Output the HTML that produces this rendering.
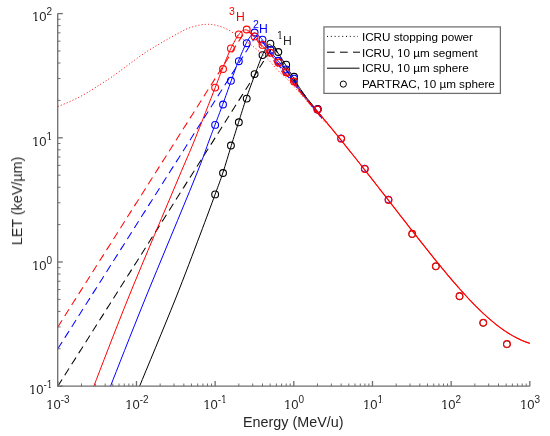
<!DOCTYPE html>
<html><head><meta charset="utf-8"><style>
html,body{margin:0;padding:0;background:#fff;width:550px;height:436px;overflow:hidden}
body{position:relative;font-family:"Liberation Sans",sans-serif;color:#262626}
.xt,.yt,.xl,.yl,.leg,.isoH,.isoS{will-change:transform}
svg{position:absolute;left:0;top:0}
.xt{position:absolute;width:60px;text-align:center;font-size:13px;line-height:15px;white-space:nowrap}
.yt{position:absolute;right:497.7px;font-size:13px;line-height:15px;white-space:nowrap}
sup{font-size:10px;vertical-align:0;position:relative;top:-6.5px}
.xl{position:absolute;left:243.2px;top:413.9px;font-size:14.35px;line-height:16px;white-space:nowrap}
.yl{position:absolute;left:23px;top:200.7px;font-size:14.35px;line-height:16px;white-space:nowrap;transform:translate(-50%,-50%) rotate(-90deg)}
.leg{position:absolute;left:324px;top:27px;width:177px;height:67px}
.lt{position:absolute;left:37.9px;font-size:11.7px;line-height:14px;white-space:nowrap;color:#000}
.isoH{position:absolute;font-size:12.2px;line-height:14px;white-space:nowrap}
.isoS{position:absolute;font-size:10.5px;line-height:12px;white-space:nowrap}
</style></head><body>
<svg width="550" height="436" viewBox="0 0 550 436"><defs><clipPath id="pc"><rect x="57.5" y="0" width="480" height="386.5"/></clipPath></defs><g clip-path="url(#pc)" fill="none" stroke-linejoin="round"><path d="M57.80,386.20 L58.11,385.70 L58.43,385.21 L58.74,384.71 L59.06,384.21 L59.37,383.71 L59.69,383.22 L60.00,382.72 L60.32,382.22 L60.63,381.73 L60.95,381.23 L61.26,380.73 L61.58,380.23 L61.89,379.74 L62.21,379.24 L62.52,378.74 L62.84,378.25 L63.15,377.75 L63.47,377.25 L63.78,376.75 L64.10,376.26 L64.41,375.76 L64.73,375.26 L65.04,374.77 L65.36,374.27 L65.67,373.77 L65.99,373.27 L66.30,372.78 L66.62,372.28 L66.93,371.78 L67.25,371.29 L67.56,370.79 L67.88,370.29 L68.19,369.79 L68.51,369.30 L68.82,368.80 L69.14,368.30 L69.45,367.81 L69.77,367.31 L70.08,366.81 L70.40,366.31 L70.71,365.82 L71.03,365.32 L71.34,364.82 L71.66,364.33 L71.97,363.83 L72.28,363.33 L72.60,362.83 L72.91,362.34 L73.23,361.84 L73.54,361.34 L73.86,360.85 L74.17,360.35 L74.49,359.85 L74.80,359.35 L75.12,358.86 L75.43,358.36 L75.75,357.86 L76.06,357.37 L76.38,356.87 L76.69,356.37 L77.01,355.87 L77.32,355.38 L77.64,354.88 L77.95,354.38 L78.27,353.89 L78.58,353.39 L78.90,352.89 L79.21,352.40 L79.53,351.90 L79.84,351.40 L80.16,350.90 L80.47,350.41 L80.79,349.91 L81.10,349.41 L81.42,348.92 L81.73,348.42 L82.05,347.92 L82.36,347.42 L82.68,346.93 L82.99,346.43 L83.31,345.93 L83.62,345.44 L83.94,344.94 L84.25,344.44 L84.57,343.94 L84.88,343.45 L85.20,342.95 L85.51,342.45 L85.83,341.96 L86.14,341.46 L86.45,340.96 L86.77,340.46 L87.08,339.97 L87.40,339.47 L87.71,338.97 L88.03,338.48 L88.34,337.98 L88.66,337.48 L88.97,336.98 L89.29,336.49 L89.60,335.99 L89.92,335.49 L90.23,335.00 L90.55,334.50 L90.86,334.00 L91.18,333.50 L91.49,333.01 L91.81,332.51 L92.12,332.01 L92.44,331.52 L92.75,331.02 L93.07,330.52 L93.38,330.02 L93.70,329.53 L94.01,329.03 L94.33,328.53 L94.64,328.04 L94.96,327.54 L95.27,327.04 L95.59,326.54 L95.90,326.05 L96.22,325.55 L96.53,325.05 L96.85,324.56 L97.16,324.06 L97.48,323.56 L97.79,323.06 L98.11,322.57 L98.42,322.07 L98.74,321.57 L99.05,321.08 L99.37,320.58 L99.68,320.08 L100.00,319.58 L100.31,319.09 L100.63,318.59 L100.94,318.09 L101.25,317.60 L101.57,317.10 L101.88,316.60 L102.20,316.10 L102.51,315.61 L102.83,315.11 L103.14,314.61 L103.46,314.12 L103.77,313.62 L104.09,313.12 L104.40,312.62 L104.72,312.13 L105.03,311.63 L105.35,311.13 L105.66,310.64 L105.98,310.14 L106.29,309.64 L106.61,309.14 L106.92,308.65 L107.24,308.15 L107.55,307.65 L107.87,307.16 L108.18,306.66 L108.50,306.16 L108.81,305.66 L109.13,305.17 L109.44,304.67 L109.76,304.17 L110.07,303.68 L110.39,303.18 L110.70,302.68 L111.02,302.18 L111.33,301.69 L111.65,301.19 L111.96,300.69 L112.28,300.20 L112.59,299.70 L112.91,299.20 L113.22,298.70 L113.54,298.21 L113.85,297.71 L114.17,297.21 L114.48,296.72 L114.80,296.22 L115.11,295.72 L115.42,295.22 L115.74,294.73 L116.05,294.23 L116.37,293.73 L116.68,293.24 L117.00,292.74 L117.31,292.24 L117.63,291.75 L117.94,291.25 L118.26,290.75 L118.57,290.25 L118.89,289.76 L119.20,289.26 L119.52,288.76 L119.83,288.27 L120.15,287.77 L120.46,287.27 L120.78,286.77 L121.09,286.28 L121.41,285.78 L121.72,285.28 L122.04,284.79 L122.35,284.29 L122.67,283.79 L122.98,283.29 L123.30,282.80 L123.61,282.30 L123.93,281.80 L124.24,281.31 L124.56,280.81 L124.87,280.31 L125.19,279.81 L125.50,279.32 L125.82,278.82 L126.13,278.32 L126.45,277.83 L126.76,277.33 L127.08,276.83 L127.39,276.33 L127.71,275.84 L128.02,275.34 L128.34,274.84 L128.65,274.35 L128.97,273.85 L129.28,273.35 L129.59,272.85 L129.91,272.36 L130.22,271.86 L130.54,271.36 L130.85,270.87 L131.17,270.37 L131.48,269.87 L131.80,269.37 L132.11,268.88 L132.43,268.38 L132.74,267.88 L133.06,267.39 L133.37,266.89 L133.69,266.39 L134.00,265.89 L134.32,265.40 L134.63,264.90 L134.95,264.40 L135.26,263.91 L135.58,263.41 L135.89,262.91 L136.21,262.41 L136.52,261.92 L136.84,261.42 L137.15,260.92 L137.47,260.43 L137.78,259.93 L138.10,259.43 L138.41,258.93 L138.73,258.44 L139.04,257.94 L139.36,257.44 L139.67,256.95 L139.99,256.45 L140.30,255.95 L140.62,255.45 L140.93,254.96 L141.25,254.46 L141.56,253.96 L141.88,253.47 L142.19,252.97 L142.51,252.47 L142.82,251.97 L143.14,251.48 L143.45,250.98 L143.76,250.48 L144.08,249.99 L144.39,249.49 L144.71,248.99 L145.02,248.49 L145.34,248.00 L145.65,247.50 L145.97,247.00 L146.28,246.51 L146.60,246.01 L146.91,245.51 L147.23,245.01 L147.54,244.52 L147.86,244.02 L148.17,243.52 L148.49,243.03 L148.80,242.53 L149.12,242.03 L149.43,241.53 L149.75,241.04 L150.06,240.54 L150.38,240.04 L150.69,239.55 L151.01,239.05 L151.32,238.55 L151.64,238.05 L151.95,237.56 L152.27,237.06 L152.58,236.56 L152.90,236.07 L153.21,235.57 L153.53,235.07 L153.84,234.57 L154.16,234.08 L154.47,233.58 L154.79,233.08 L155.10,232.59 L155.42,232.09 L155.73,231.59 L156.05,231.09 L156.36,230.60 L156.68,230.10 L156.99,229.60 L157.31,229.11 L157.62,228.61 L157.93,228.11 L158.25,227.62 L158.56,227.12 L158.88,226.62 L159.19,226.12 L159.51,225.63 L159.82,225.13 L160.14,224.63 L160.45,224.14 L160.77,223.64 L161.08,223.14 L161.40,222.64 L161.71,222.15 L162.03,221.65 L162.34,221.15 L162.66,220.66 L162.97,220.16 L163.29,219.66 L163.60,219.16 L163.92,218.67 L164.23,218.17 L164.55,217.67 L164.86,217.18 L165.18,216.68 L165.49,216.18 L165.81,215.68 L166.12,215.19 L166.44,214.69 L166.75,214.19 L167.07,213.70 L167.38,213.20 L167.70,212.70 L168.01,212.20 L168.33,211.71 L168.64,211.21 L168.96,210.71 L169.27,210.22 L169.59,209.72 L169.90,209.22 L170.22,208.72 L170.53,208.23 L170.85,207.73 L171.16,207.23 L171.48,206.74 L171.79,206.24 L172.11,205.74 L172.42,205.24 L172.73,204.75 L173.05,204.25 L173.36,203.75 L173.68,203.26 L173.99,202.76 L174.31,202.26 L174.62,201.76 L174.94,201.27 L175.25,200.77 L175.57,200.27 L175.88,199.78 L176.20,199.28 L176.51,198.78 L176.83,198.28 L177.14,197.79 L177.46,197.29 L177.77,196.79 L178.09,196.30 L178.40,195.80 L178.72,195.30 L179.03,194.80 L179.35,194.31 L179.66,193.81 L179.98,193.31 L180.29,192.82 L180.61,192.32 L180.92,191.82 L181.24,191.32 L181.55,190.83 L181.87,190.33 L182.18,189.83 L182.50,189.34 L182.81,188.84 L183.13,188.34 L183.44,187.84 L183.76,187.35 L184.07,186.85 L184.39,186.35 L184.70,185.86 L185.02,185.36 L185.33,184.86 L185.65,184.36 L185.96,183.87 L186.28,183.37 L186.59,182.87 L186.90,182.38 L187.22,181.88 L187.53,181.38 L187.85,180.88 L188.16,180.39 L188.48,179.89 L188.79,179.39 L189.11,178.90 L189.42,178.40 L189.74,177.90 L190.05,177.40 L190.37,176.91 L190.68,176.41 L191.00,175.91 L191.31,175.42 L191.63,174.92 L191.94,174.42 L192.26,173.92 L192.57,173.43 L192.89,172.93 L193.20,172.43 L193.52,171.94 L193.83,171.44 L194.15,170.94 L194.46,170.44 L194.78,169.95 L195.09,169.45 L195.41,168.95 L195.72,168.46 L196.04,167.96 L196.35,167.46 L196.67,166.97 L196.98,166.47 L197.30,165.97 L197.61,165.47 L197.93,164.98 L198.24,164.48 L198.56,163.98 L198.87,163.49 L199.19,162.99 L199.50,162.49 L199.82,161.99 L200.13,161.50 L200.45,161.00 L200.76,160.50 L201.07,160.01 L201.39,159.51 L201.70,159.01 L202.02,158.51 L202.33,158.02 L202.65,157.52 L202.96,157.02 L203.28,156.53 L203.59,156.03 L203.91,155.53 L204.22,155.03 L204.54,154.54 L204.85,154.04 L205.17,153.54 L205.48,153.05 L205.80,152.55 L206.11,152.05 L206.43,151.55 L206.74,151.06 L207.06,150.56 L207.37,150.06 L207.69,149.57 L208.00,149.07 L208.32,148.57 L208.63,148.07 L208.95,147.58 L209.26,147.08 L209.58,146.58 L209.89,146.09 L210.21,145.59 L210.52,145.09 L210.84,144.59 L211.15,144.10 L211.47,143.60 L211.78,143.10 L212.10,142.61 L212.41,142.11 L212.73,141.61 L213.04,141.11 L213.36,140.62 L213.67,140.12 L213.99,139.62 L214.30,139.13 L214.62,138.63 L214.93,138.13 L215.24,137.63 L215.56,137.14 L215.87,136.64 L216.19,136.14 L216.50,135.65 L216.82,135.15 L217.13,134.65 L217.45,134.15 L217.76,133.66 L218.08,133.16 L218.39,132.66 L218.71,132.17 L219.02,131.67 L219.34,131.17 L219.65,130.67 L219.97,130.18 L220.28,129.68 L220.60,129.18 L220.91,128.69 L221.23,128.19 L221.54,127.69 L221.86,127.19 L222.17,126.70 L222.49,126.20 L222.80,125.70 L223.12,125.21 L223.43,124.71 L223.75,124.21 L224.06,123.71 L224.38,123.22 L224.69,122.72 L225.01,122.22 L225.32,121.73 L225.64,121.23 L225.95,120.73 L226.27,120.23 L226.58,119.74 L226.90,119.24 L227.21,118.74 L227.53,118.25 L227.84,117.75 L228.16,117.25 L228.47,116.75 L228.79,116.26 L229.10,115.76 L229.42,115.26 L229.73,114.77 L230.04,114.27 L230.36,113.77 L230.67,113.27 L230.99,112.78 L231.30,112.28 L231.62,111.78 L231.93,111.29 L232.25,110.79 L232.56,110.29 L232.88,109.79 L233.19,109.30 L233.51,108.80 L233.82,108.30 L234.14,107.81 L234.45,107.31 L234.77,106.81 L235.08,106.32 L235.40,105.82 L235.71,105.32 L236.03,104.82 L236.34,104.33 L236.66,103.83 L236.97,103.33 L237.29,102.84 L237.60,102.34 L237.92,101.84 L238.23,101.34 L238.55,100.85 L238.86,100.35 L239.18,99.85 L239.49,99.36 L239.81,98.86 L240.12,98.36 L240.44,97.86 L240.75,97.37 L241.07,96.87 L241.38,96.37 L241.70,95.88 L242.01,95.38 L242.33,94.88 L242.64,94.38 L242.96,93.89 L243.27,93.39 L243.59,92.89 L243.90,92.40 L244.21,91.90 L244.53,91.40 L244.84,90.90 L245.16,90.41 L245.47,89.91 L245.79,89.41 L246.10,88.92 L246.42,88.42 L246.73,87.92 L247.05,87.42 L247.36,86.93 L247.68,86.43 L247.99,85.93 L248.31,85.44 L248.62,84.94 L248.94,84.44 L249.25,83.94 L249.57,83.45 L249.88,82.95 L250.20,82.45 L250.51,81.96 L250.83,81.46 L251.14,80.96 L251.46,80.46 L251.77,79.97 L252.09,79.47 L252.40,78.97 L252.72,78.48 L253.03,77.98 L253.35,77.48 L253.66,76.98 L253.98,76.49 L254.29,75.99 L254.61,75.49 L254.92,75.00 L255.24,74.50 L255.55,74.00 L255.87,73.50 L256.18,73.01 L256.50,72.51 L256.81,72.01 L257.13,71.52 L257.44,71.02 L257.76,70.52 L258.07,70.02 L258.38,69.53 L258.70,69.03 L259.01,68.53 L259.33,68.04 L259.64,67.54 L259.96,67.04 L260.27,66.54 L260.59,66.05 L260.90,65.55 L261.22,65.05 L261.53,64.56 L261.85,64.06 L262.16,63.56 L262.48,63.06 L262.79,62.57 L263.11,62.07 L263.42,61.57 L263.74,61.08 L264.05,60.58 L264.37,60.08 L264.68,59.58 L265.00,59.09 L265.31,58.59 L265.63,58.09 L265.94,57.60 L266.26,57.10 L266.57,56.60 L266.89,56.10 L267.20,55.61 L267.52,55.11 L267.83,54.61 L268.15,54.12 L268.46,53.62 L268.78,53.12 L269.09,52.62 L269.41,52.13 L269.72,51.63 L270.04,51.13 L270.35,50.64 L270.67,50.14 L270.98,49.64 L271.30,49.14 L271.61,48.65 L271.93,48.15 L272.24,47.65 L272.55,47.16 L272.87,46.66 L273.18,46.35 L273.50,46.21 L273.81,46.22 L274.13,46.38 L274.44,46.67 L274.76,47.08 L275.07,47.60 L275.39,48.21 L275.70,48.87 L276.02,49.58 L276.33,50.31 L276.65,51.05 L276.96,51.80 L277.28,52.54 L277.59,53.27 L277.91,53.98 L278.22,54.69 L278.54,55.37 L278.85,56.05 L279.17,56.71 L279.48,57.37 L279.80,58.01 L280.11,58.65 L280.43,59.28 L280.74,59.90 L281.06,60.50 L281.37,61.10 L281.69,61.70 L282.00,62.28 L282.32,62.86 L282.63,63.44 L282.95,64.01 L283.26,64.58 L283.58,65.13 L283.89,65.69 L284.21,66.23 L284.52,66.77 L284.84,67.30 L285.15,67.83 L285.47,68.35 L285.78,68.87 L286.10,69.38 L286.41,69.89 L286.72,70.39 L287.04,70.90 L287.35,71.39 L287.67,71.89 L287.98,72.37 L288.30,72.85 L288.61,73.33 L288.93,73.80 L289.24,74.26 L289.56,74.72 L289.87,75.17 L290.19,75.61 L290.50,76.06 L290.82,76.50 L291.13,76.93 L291.45,77.36 L291.76,77.78 L292.08,78.20 L292.39,78.62 L292.71,79.04 L293.02,79.46 L293.34,79.88 L293.65,80.30 L293.97,80.73 L294.28,81.15 L294.60,81.58 L294.91,82.01 L295.23,82.44 L295.54,82.88 L295.86,83.32 L296.17,83.76 L296.49,84.20 L296.80,84.64 L297.12,85.08 L297.43,85.51 L297.75,85.95 L298.06,86.38 L298.38,86.82 L298.69,87.25 L299.01,87.68 L299.32,88.11 L299.64,88.54 L299.95,88.97 L300.27,89.40 L300.58,89.82 L300.90,90.25 L301.21,90.67 L301.52,91.10 L301.84,91.52 L302.15,91.94 L302.47,92.36 L302.78,92.78 L303.10,93.20 L303.41,93.62 L303.73,94.04 L304.04,94.46 L304.36,94.87 L304.67,95.29 L304.99,95.71 L305.30,96.12 L305.62,96.54 L305.93,96.95 L306.25,97.36 L306.56,97.78 L306.88,98.19 L307.19,98.60 L307.51,99.01 L307.82,99.42 L308.14,99.83 L308.45,100.24 L308.77,100.65 L309.08,101.06 L309.40,101.47 L309.71,101.87 L310.03,102.28 L310.34,102.69 L310.66,103.09 L310.97,103.50 L311.29,103.91 L311.60,104.31 L311.92,104.72 L312.23,105.12 L312.55,105.53 L312.86,105.93 L313.18,106.34 L313.49,106.74 L313.81,107.14 L314.12,107.55 L314.44,107.95 L314.75,108.35 L315.07,108.75 L315.38,109.16 L315.69,109.56 L316.01,109.96 L316.32,110.36 L316.64,110.76 L316.95,111.16 L317.27,111.56 L317.58,111.97 L317.90,112.37 L318.21,112.77 L318.53,113.17 L318.84,113.57 L319.16,113.97 L319.47,114.36 L319.79,114.76 L320.10,115.16 L320.42,115.56 L320.73,115.96 L321.05,116.36 L321.36,116.76 L321.68,117.16 L321.99,117.56" stroke="#000" stroke-width="1.05" stroke-dasharray="8 5"/><path d="M139.60,386.20 L142.40,379.40 L146.20,370.21 L150.74,359.26 L155.74,347.16 L160.93,334.56 L166.05,322.08 L170.83,310.35 L175.00,300.00 L178.69,290.69 L182.21,281.69 L185.57,273.00 L188.77,264.65 L191.81,256.66 L194.69,249.04 L197.42,241.81 L200.00,235.00 L202.41,228.63 L204.64,222.68 L206.71,217.14 L208.63,211.98 L210.41,207.15 L212.08,202.63 L213.63,198.39 L215.10,194.40 L216.41,190.85 L217.53,187.84 L218.49,185.24 L219.36,182.88 L220.18,180.63 L220.99,178.33 L221.85,175.84 L222.80,173.00 L223.83,169.82 L224.90,166.45 L225.98,162.95 L227.08,159.36 L228.17,155.77 L229.24,152.22 L230.29,148.77 L231.30,145.50 L232.27,142.40 L233.20,139.41 L234.11,136.51 L235.01,133.66 L235.89,130.85 L236.78,128.03 L237.68,125.19 L238.60,122.30 L239.53,119.37 L240.45,116.43 L241.37,113.48 L242.30,110.53 L243.24,107.57 L244.20,104.59 L245.19,101.60 L246.20,98.60 L247.26,95.54 L248.37,92.40 L249.51,89.23 L250.67,86.06 L251.82,82.92 L252.96,79.86 L254.06,76.90 L255.10,74.10 L256.10,71.39 L257.09,68.73 L258.05,66.14 L258.99,63.64 L259.89,61.26 L260.77,59.02 L261.60,56.96 L262.40,55.10 L263.16,53.43 L263.88,51.94 L264.57,50.61 L265.22,49.43 L265.84,48.38 L266.42,47.47 L266.98,46.68 L267.50,46.00 L267.94,45.42 L268.28,44.96 L268.56,44.61 L268.82,44.40 L269.11,44.32 L269.45,44.39 L269.90,44.62 L270.50,45.00 L271.26,45.58 L272.14,46.37 L273.12,47.33 L274.16,48.43 L275.24,49.62 L276.33,50.89 L277.39,52.20 L278.40,53.50 L279.36,54.85 L280.32,56.29 L281.27,57.80 L282.22,59.36 L283.16,60.96 L284.11,62.56 L285.05,64.14 L286.00,65.70 L286.93,67.21 L287.85,68.69 L288.75,70.16 L289.66,71.64 L290.59,73.15 L291.55,74.70 L292.54,76.31 L293.60,78.00 L294.69,79.77 L295.79,81.59 L296.93,83.47 L298.09,85.39 L299.31,87.36 L300.60,89.37 L301.95,91.42 L303.40,93.50 L305.04,95.74 L306.91,98.20 L308.91,100.77 L310.95,103.34 L312.92,105.81 L314.73,108.07 L316.29,110.01 L317.49,111.52 L318.30,112.54 L318.80,113.16 L319.06,113.48 L319.15,113.57 L319.15,113.54 L319.12,113.48 L319.14,113.48 L319.28,113.64 L319.50,113.90 L319.72,114.17 L319.95,114.43 L320.17,114.70 L320.39,114.97 L320.61,115.23 L320.84,115.50 L321.06,115.77 L321.28,116.03 L321.51,116.30 L321.73,116.57 L321.95,116.83" stroke="#000" stroke-width="1"/><circle cx="215.14" cy="194.40" r="3.4" stroke="#000" stroke-width="1.1"/><circle cx="223.03" cy="173.00" r="3.4" stroke="#000" stroke-width="1.1"/><circle cx="230.93" cy="145.50" r="3.4" stroke="#000" stroke-width="1.1"/><circle cx="238.82" cy="122.30" r="3.4" stroke="#000" stroke-width="1.1"/><circle cx="246.72" cy="98.60" r="3.4" stroke="#000" stroke-width="1.1"/><circle cx="254.61" cy="74.10" r="3.4" stroke="#000" stroke-width="1.1"/><circle cx="262.50" cy="55.10" r="3.4" stroke="#000" stroke-width="1.1"/><circle cx="270.40" cy="43.70" r="3.4" stroke="#000" stroke-width="1.1"/><circle cx="278.29" cy="52.00" r="3.4" stroke="#000" stroke-width="1.1"/><circle cx="286.19" cy="64.70" r="3.4" stroke="#000" stroke-width="1.1"/><circle cx="294.08" cy="76.80" r="3.4" stroke="#000" stroke-width="1.1"/><circle cx="317.79" cy="108.90" r="3.4" stroke="#000" stroke-width="1.1"/><path d="M57.80,348.81 L58.11,348.31 L58.43,347.82 L58.74,347.32 L59.06,346.82 L59.37,346.33 L59.69,345.83 L60.00,345.33 L60.32,344.84 L60.63,344.34 L60.95,343.84 L61.26,343.34 L61.58,342.85 L61.89,342.35 L62.21,341.85 L62.52,341.36 L62.84,340.86 L63.15,340.36 L63.47,339.86 L63.78,339.37 L64.10,338.87 L64.41,338.37 L64.73,337.88 L65.04,337.38 L65.36,336.88 L65.67,336.38 L65.99,335.89 L66.30,335.39 L66.62,334.89 L66.93,334.40 L67.25,333.90 L67.56,333.40 L67.88,332.90 L68.19,332.41 L68.51,331.91 L68.82,331.41 L69.14,330.92 L69.45,330.42 L69.77,329.92 L70.08,329.42 L70.40,328.93 L70.71,328.43 L71.03,327.93 L71.34,327.44 L71.66,326.94 L71.97,326.44 L72.28,325.94 L72.60,325.45 L72.91,324.95 L73.23,324.45 L73.54,323.96 L73.86,323.46 L74.17,322.96 L74.49,322.46 L74.80,321.97 L75.12,321.47 L75.43,320.97 L75.75,320.48 L76.06,319.98 L76.38,319.48 L76.69,318.98 L77.01,318.49 L77.32,317.99 L77.64,317.49 L77.95,317.00 L78.27,316.50 L78.58,316.00 L78.90,315.50 L79.21,315.01 L79.53,314.51 L79.84,314.01 L80.16,313.52 L80.47,313.02 L80.79,312.52 L81.10,312.02 L81.42,311.53 L81.73,311.03 L82.05,310.53 L82.36,310.04 L82.68,309.54 L82.99,309.04 L83.31,308.54 L83.62,308.05 L83.94,307.55 L84.25,307.05 L84.57,306.56 L84.88,306.06 L85.20,305.56 L85.51,305.06 L85.83,304.57 L86.14,304.07 L86.45,303.57 L86.77,303.08 L87.08,302.58 L87.40,302.08 L87.71,301.58 L88.03,301.09 L88.34,300.59 L88.66,300.09 L88.97,299.60 L89.29,299.10 L89.60,298.60 L89.92,298.10 L90.23,297.61 L90.55,297.11 L90.86,296.61 L91.18,296.12 L91.49,295.62 L91.81,295.12 L92.12,294.62 L92.44,294.13 L92.75,293.63 L93.07,293.13 L93.38,292.64 L93.70,292.14 L94.01,291.64 L94.33,291.14 L94.64,290.65 L94.96,290.15 L95.27,289.65 L95.59,289.16 L95.90,288.66 L96.22,288.16 L96.53,287.66 L96.85,287.17 L97.16,286.67 L97.48,286.17 L97.79,285.68 L98.11,285.18 L98.42,284.68 L98.74,284.18 L99.05,283.69 L99.37,283.19 L99.68,282.69 L100.00,282.20 L100.31,281.70 L100.63,281.20 L100.94,280.71 L101.25,280.21 L101.57,279.71 L101.88,279.21 L102.20,278.72 L102.51,278.22 L102.83,277.72 L103.14,277.23 L103.46,276.73 L103.77,276.23 L104.09,275.73 L104.40,275.24 L104.72,274.74 L105.03,274.24 L105.35,273.75 L105.66,273.25 L105.98,272.75 L106.29,272.25 L106.61,271.76 L106.92,271.26 L107.24,270.76 L107.55,270.27 L107.87,269.77 L108.18,269.27 L108.50,268.77 L108.81,268.28 L109.13,267.78 L109.44,267.28 L109.76,266.79 L110.07,266.29 L110.39,265.79 L110.70,265.29 L111.02,264.80 L111.33,264.30 L111.65,263.80 L111.96,263.31 L112.28,262.81 L112.59,262.31 L112.91,261.81 L113.22,261.32 L113.54,260.82 L113.85,260.32 L114.17,259.83 L114.48,259.33 L114.80,258.83 L115.11,258.33 L115.42,257.84 L115.74,257.34 L116.05,256.84 L116.37,256.35 L116.68,255.85 L117.00,255.35 L117.31,254.85 L117.63,254.36 L117.94,253.86 L118.26,253.36 L118.57,252.87 L118.89,252.37 L119.20,251.87 L119.52,251.37 L119.83,250.88 L120.15,250.38 L120.46,249.88 L120.78,249.39 L121.09,248.89 L121.41,248.39 L121.72,247.89 L122.04,247.40 L122.35,246.90 L122.67,246.40 L122.98,245.91 L123.30,245.41 L123.61,244.91 L123.93,244.41 L124.24,243.92 L124.56,243.42 L124.87,242.92 L125.19,242.43 L125.50,241.93 L125.82,241.43 L126.13,240.93 L126.45,240.44 L126.76,239.94 L127.08,239.44 L127.39,238.95 L127.71,238.45 L128.02,237.95 L128.34,237.45 L128.65,236.96 L128.97,236.46 L129.28,235.96 L129.59,235.47 L129.91,234.97 L130.22,234.47 L130.54,233.97 L130.85,233.48 L131.17,232.98 L131.48,232.48 L131.80,231.99 L132.11,231.49 L132.43,230.99 L132.74,230.49 L133.06,230.00 L133.37,229.50 L133.69,229.00 L134.00,228.51 L134.32,228.01 L134.63,227.51 L134.95,227.01 L135.26,226.52 L135.58,226.02 L135.89,225.52 L136.21,225.03 L136.52,224.53 L136.84,224.03 L137.15,223.53 L137.47,223.04 L137.78,222.54 L138.10,222.04 L138.41,221.55 L138.73,221.05 L139.04,220.55 L139.36,220.06 L139.67,219.56 L139.99,219.06 L140.30,218.56 L140.62,218.07 L140.93,217.57 L141.25,217.07 L141.56,216.58 L141.88,216.08 L142.19,215.58 L142.51,215.08 L142.82,214.59 L143.14,214.09 L143.45,213.59 L143.76,213.10 L144.08,212.60 L144.39,212.10 L144.71,211.60 L145.02,211.11 L145.34,210.61 L145.65,210.11 L145.97,209.62 L146.28,209.12 L146.60,208.62 L146.91,208.12 L147.23,207.63 L147.54,207.13 L147.86,206.63 L148.17,206.14 L148.49,205.64 L148.80,205.14 L149.12,204.64 L149.43,204.15 L149.75,203.65 L150.06,203.15 L150.38,202.66 L150.69,202.16 L151.01,201.66 L151.32,201.16 L151.64,200.67 L151.95,200.17 L152.27,199.67 L152.58,199.18 L152.90,198.68 L153.21,198.18 L153.53,197.68 L153.84,197.19 L154.16,196.69 L154.47,196.19 L154.79,195.70 L155.10,195.20 L155.42,194.70 L155.73,194.20 L156.05,193.71 L156.36,193.21 L156.68,192.71 L156.99,192.22 L157.31,191.72 L157.62,191.22 L157.93,190.72 L158.25,190.23 L158.56,189.73 L158.88,189.23 L159.19,188.74 L159.51,188.24 L159.82,187.74 L160.14,187.24 L160.45,186.75 L160.77,186.25 L161.08,185.75 L161.40,185.26 L161.71,184.76 L162.03,184.26 L162.34,183.76 L162.66,183.27 L162.97,182.77 L163.29,182.27 L163.60,181.78 L163.92,181.28 L164.23,180.78 L164.55,180.28 L164.86,179.79 L165.18,179.29 L165.49,178.79 L165.81,178.30 L166.12,177.80 L166.44,177.30 L166.75,176.80 L167.07,176.31 L167.38,175.81 L167.70,175.31 L168.01,174.82 L168.33,174.32 L168.64,173.82 L168.96,173.32 L169.27,172.83 L169.59,172.33 L169.90,171.83 L170.22,171.34 L170.53,170.84 L170.85,170.34 L171.16,169.84 L171.48,169.35 L171.79,168.85 L172.11,168.35 L172.42,167.86 L172.73,167.36 L173.05,166.86 L173.36,166.36 L173.68,165.87 L173.99,165.37 L174.31,164.87 L174.62,164.38 L174.94,163.88 L175.25,163.38 L175.57,162.88 L175.88,162.39 L176.20,161.89 L176.51,161.39 L176.83,160.90 L177.14,160.40 L177.46,159.90 L177.77,159.41 L178.09,158.91 L178.40,158.41 L178.72,157.91 L179.03,157.42 L179.35,156.92 L179.66,156.42 L179.98,155.93 L180.29,155.43 L180.61,154.93 L180.92,154.43 L181.24,153.94 L181.55,153.44 L181.87,152.94 L182.18,152.45 L182.50,151.95 L182.81,151.45 L183.13,150.95 L183.44,150.46 L183.76,149.96 L184.07,149.46 L184.39,148.97 L184.70,148.47 L185.02,147.97 L185.33,147.47 L185.65,146.98 L185.96,146.48 L186.28,145.98 L186.59,145.49 L186.90,144.99 L187.22,144.49 L187.53,143.99 L187.85,143.50 L188.16,143.00 L188.48,142.50 L188.79,142.01 L189.11,141.51 L189.42,141.01 L189.74,140.51 L190.05,140.02 L190.37,139.52 L190.68,139.02 L191.00,138.53 L191.31,138.03 L191.63,137.53 L191.94,137.03 L192.26,136.54 L192.57,136.04 L192.89,135.54 L193.20,135.05 L193.52,134.55 L193.83,134.05 L194.15,133.55 L194.46,133.06 L194.78,132.56 L195.09,132.06 L195.41,131.57 L195.72,131.07 L196.04,130.57 L196.35,130.07 L196.67,129.58 L196.98,129.08 L197.30,128.58 L197.61,128.09 L197.93,127.59 L198.24,127.09 L198.56,126.59 L198.87,126.10 L199.19,125.60 L199.50,125.10 L199.82,124.61 L200.13,124.11 L200.45,123.61 L200.76,123.11 L201.07,122.62 L201.39,122.12 L201.70,121.62 L202.02,121.13 L202.33,120.63 L202.65,120.13 L202.96,119.63 L203.28,119.14 L203.59,118.64 L203.91,118.14 L204.22,117.65 L204.54,117.15 L204.85,116.65 L205.17,116.15 L205.48,115.66 L205.80,115.16 L206.11,114.66 L206.43,114.17 L206.74,113.67 L207.06,113.17 L207.37,112.67 L207.69,112.18 L208.00,111.68 L208.32,111.18 L208.63,110.69 L208.95,110.19 L209.26,109.69 L209.58,109.19 L209.89,108.70 L210.21,108.20 L210.52,107.70 L210.84,107.21 L211.15,106.71 L211.47,106.21 L211.78,105.71 L212.10,105.22 L212.41,104.72 L212.73,104.22 L213.04,103.73 L213.36,103.23 L213.67,102.73 L213.99,102.23 L214.30,101.74 L214.62,101.24 L214.93,100.74 L215.24,100.25 L215.56,99.75 L215.87,99.25 L216.19,98.75 L216.50,98.26 L216.82,97.76 L217.13,97.26 L217.45,96.77 L217.76,96.27 L218.08,95.77 L218.39,95.28 L218.71,94.78 L219.02,94.28 L219.34,93.78 L219.65,93.29 L219.97,92.79 L220.28,92.29 L220.60,91.80 L220.91,91.30 L221.23,90.80 L221.54,90.30 L221.86,89.81 L222.17,89.31 L222.49,88.81 L222.80,88.32 L223.12,87.82 L223.43,87.32 L223.75,86.82 L224.06,86.33 L224.38,85.83 L224.69,85.33 L225.01,84.84 L225.32,84.34 L225.64,83.84 L225.95,83.34 L226.27,82.85 L226.58,82.35 L226.90,81.85 L227.21,81.36 L227.53,80.86 L227.84,80.36 L228.16,79.86 L228.47,79.37 L228.79,78.87 L229.10,78.37 L229.42,77.88 L229.73,77.38 L230.04,76.88 L230.36,76.38 L230.67,75.89 L230.99,75.39 L231.30,74.89 L231.62,74.40 L231.93,73.90 L232.25,73.40 L232.56,72.90 L232.88,72.41 L233.19,71.91 L233.51,71.41 L233.82,70.92 L234.14,70.42 L234.45,69.92 L234.77,69.42 L235.08,68.93 L235.40,68.43 L235.71,67.93 L236.03,67.44 L236.34,66.94 L236.66,66.44 L236.97,65.94 L237.29,65.45 L237.60,64.95 L237.92,64.45 L238.23,63.96 L238.55,63.46 L238.86,62.96 L239.18,62.46 L239.49,61.97 L239.81,61.47 L240.12,60.97 L240.44,60.48 L240.75,59.98 L241.07,59.48 L241.38,58.98 L241.70,58.49 L242.01,57.99 L242.33,57.49 L242.64,57.00 L242.96,56.50 L243.27,56.00 L243.59,55.50 L243.90,55.01 L244.21,54.51 L244.53,54.01 L244.84,53.52 L245.16,53.02 L245.47,52.52 L245.79,52.02 L246.10,51.53 L246.42,51.03 L246.73,50.53 L247.05,50.04 L247.36,49.54 L247.68,49.04 L247.99,48.54 L248.31,48.05 L248.62,47.55 L248.94,47.05 L249.25,46.56 L249.57,46.06 L249.88,45.56 L250.20,45.06 L250.51,44.57 L250.83,44.07 L251.14,43.57 L251.46,43.08 L251.77,42.58 L252.09,42.08 L252.40,41.58 L252.72,41.09 L253.03,40.59 L253.35,40.09 L253.66,39.60 L253.98,39.10 L254.29,38.60 L254.61,38.12 L254.92,37.73 L255.24,37.40 L255.55,37.12 L255.87,36.89 L256.18,36.71 L256.50,36.57 L256.81,36.49 L257.13,36.47 L257.44,36.48 L257.76,36.55 L258.07,36.65 L258.38,36.80 L258.70,37.00 L259.01,37.23 L259.33,37.51 L259.64,37.82 L259.96,38.16 L260.27,38.53 L260.59,38.93 L260.90,39.34 L261.22,39.78 L261.53,40.23 L261.85,40.69 L262.16,41.16 L262.48,41.63 L262.79,42.12 L263.11,42.60 L263.42,43.09 L263.74,43.57 L264.05,44.06 L264.37,44.55 L264.68,45.03 L265.00,45.51 L265.31,45.98 L265.63,46.45 L265.94,46.92 L266.26,47.38 L266.57,47.84 L266.89,48.30 L267.20,48.75 L267.52,49.20 L267.83,49.65 L268.15,50.09 L268.46,50.54 L268.78,50.98 L269.09,51.43 L269.41,51.87 L269.72,52.31 L270.04,52.75 L270.35,53.19 L270.67,53.63 L270.98,54.07 L271.30,54.51 L271.61,54.95 L271.93,55.39 L272.24,55.83 L272.55,56.27 L272.87,56.72 L273.18,57.16 L273.50,57.61 L273.81,58.06 L274.13,58.51 L274.44,58.96 L274.76,59.41 L275.07,59.85 L275.39,60.30 L275.70,60.75 L276.02,61.20 L276.33,61.65 L276.65,62.10 L276.96,62.55 L277.28,63.00 L277.59,63.45 L277.91,63.90 L278.22,64.36 L278.54,64.81 L278.85,65.27 L279.17,65.73 L279.48,66.19 L279.80,66.65 L280.11,67.10 L280.43,67.55 L280.74,67.99 L281.06,68.43 L281.37,68.86 L281.69,69.29 L282.00,69.71 L282.32,70.12 L282.63,70.53 L282.95,70.93 L283.26,71.33 L283.58,71.72 L283.89,72.10 L284.21,72.48 L284.52,72.86 L284.84,73.23 L285.15,73.59 L285.47,73.94 L285.78,74.29 L286.10,74.64 L286.41,74.98 L286.72,75.31 L287.04,75.65 L287.35,75.99 L287.67,76.33 L287.98,76.67 L288.30,77.02 L288.61,77.37 L288.93,77.72 L289.24,78.08 L289.56,78.44 L289.87,78.80 L290.19,79.17 L290.50,79.54 L290.82,79.92 L291.13,80.30 L291.45,80.69 L291.76,81.08 L292.08,81.47 L292.39,81.86 L292.71,82.26 L293.02,82.65 L293.34,83.04 L293.65,83.43 L293.97,83.82 L294.28,84.21 L294.60,84.60 L294.91,84.99 L295.23,85.38 L295.54,85.77 L295.86,86.16 L296.17,86.55 L296.49,86.94 L296.80,87.33 L297.12,87.72 L297.43,88.11 L297.75,88.50 L298.06,88.89 L298.38,89.27 L298.69,89.66 L299.01,90.05 L299.32,90.44 L299.64,90.82 L299.95,91.21 L300.27,91.60 L300.58,91.99 L300.90,92.37 L301.21,92.76 L301.52,93.15 L301.84,93.53 L302.15,93.92 L302.47,94.30 L302.78,94.69 L303.10,95.08 L303.41,95.46 L303.73,95.85 L304.04,96.24 L304.36,96.62 L304.67,97.01 L304.99,97.39 L305.30,97.78 L305.62,98.16 L305.93,98.55 L306.25,98.94 L306.56,99.32 L306.88,99.71 L307.19,100.09 L307.51,100.48 L307.82,100.86 L308.14,101.25 L308.45,101.63 L308.77,102.02 L309.08,102.40 L309.40,102.79 L309.71,103.18 L310.03,103.56 L310.34,103.95 L310.66,104.33 L310.97,104.72 L311.29,105.10 L311.60,105.49 L311.92,105.87 L312.23,106.26 L312.55,106.64 L312.86,107.03 L313.18,107.42 L313.49,107.80 L313.81,108.19 L314.12,108.57 L314.44,108.96 L314.75,109.34 L315.07,109.73 L315.38,110.11 L315.69,110.50 L316.01,110.89 L316.32,111.27 L316.64,111.66 L316.95,112.05 L317.27,112.43 L317.58,112.82 L317.90,113.21 L318.21,113.59 L318.53,113.98 L318.84,114.36 L319.16,114.75 L319.47,115.14 L319.79,115.53 L320.10,115.91 L320.42,116.30 L320.73,116.69 L321.05,117.07 L321.36,117.46 L321.68,117.85 L321.99,118.23" stroke="#0000ff" stroke-width="1.05" stroke-dasharray="8 5"/><path d="M110.50,386.20 L113.03,379.78 L116.29,371.50 L120.15,361.67 L124.51,350.60 L129.25,338.59 L134.27,325.95 L139.46,312.98 L144.70,300.00 L150.39,286.07 L156.81,270.50 L163.65,253.96 L170.64,237.11 L177.48,220.63 L183.89,205.17 L189.55,191.40 L194.20,180.00 L197.80,171.00 L200.61,163.79 L202.80,158.05 L204.49,153.44 L205.84,149.66 L206.99,146.37 L208.10,143.26 L209.30,140.00 L210.45,136.96 L211.34,134.60 L212.04,132.75 L212.61,131.23 L213.13,129.86 L213.65,128.46 L214.26,126.87 L215.00,124.90 L215.86,122.63 L216.77,120.25 L217.71,117.78 L218.68,115.24 L219.67,112.62 L220.67,109.96 L221.69,107.24 L222.70,104.50 L223.73,101.67 L224.80,98.71 L225.89,95.67 L226.98,92.60 L228.07,89.53 L229.15,86.51 L230.19,83.59 L231.20,80.80 L232.16,78.14 L233.07,75.57 L233.96,73.08 L234.84,70.64 L235.71,68.25 L236.58,65.89 L237.48,63.55 L238.40,61.20 L239.37,58.81 L240.38,56.37 L241.41,53.92 L242.44,51.52 L243.47,49.20 L244.46,47.01 L245.41,44.99 L246.30,43.20 L247.13,41.61 L247.92,40.19 L248.67,38.92 L249.39,37.79 L250.08,36.79 L250.75,35.92 L251.38,35.16 L252.00,34.50 L252.57,33.96 L253.07,33.54 L253.53,33.25 L253.97,33.08 L254.41,33.02 L254.89,33.08 L255.41,33.24 L256.00,33.50 L256.66,33.88 L257.37,34.40 L258.12,35.04 L258.91,35.79 L259.71,36.62 L260.54,37.53 L261.37,38.49 L262.20,39.50 L263.03,40.58 L263.86,41.77 L264.70,43.03 L265.56,44.36 L266.44,45.73 L267.36,47.13 L268.31,48.52 L269.30,49.90 L270.36,51.29 L271.49,52.73 L272.68,54.20 L273.88,55.68 L275.09,57.15 L276.28,58.59 L277.42,59.98 L278.50,61.30 L279.51,62.55 L280.49,63.73 L281.43,64.88 L282.34,65.99 L283.24,67.08 L284.13,68.17 L285.01,69.27 L285.90,70.40 L286.76,71.50 L287.57,72.55 L288.36,73.57 L289.15,74.61 L289.96,75.69 L290.83,76.86 L291.76,78.15 L292.80,79.60 L293.92,81.22 L295.11,82.99 L296.35,84.87 L297.65,86.84 L299.01,88.87 L300.42,90.93 L301.88,92.98 L303.40,95.00 L305.08,97.11 L306.97,99.39 L308.97,101.74 L311.00,104.09 L312.96,106.33 L314.75,108.37 L316.30,110.13 L317.49,111.52 L318.30,112.47 L318.80,113.06 L319.06,113.37 L319.15,113.48 L319.15,113.47 L319.12,113.44 L319.14,113.47 L319.28,113.64 L319.50,113.90 L319.72,114.17 L319.95,114.43 L320.17,114.70 L320.39,114.97 L320.61,115.23 L320.84,115.50 L321.06,115.77 L321.28,116.03 L321.51,116.30 L321.73,116.57 L321.95,116.83" stroke="#0000ff" stroke-width="1"/><circle cx="215.14" cy="124.90" r="3.4" stroke="#0000ff" stroke-width="1.1"/><circle cx="223.03" cy="104.50" r="3.4" stroke="#0000ff" stroke-width="1.1"/><circle cx="230.93" cy="80.80" r="3.4" stroke="#0000ff" stroke-width="1.1"/><circle cx="238.82" cy="61.20" r="3.4" stroke="#0000ff" stroke-width="1.1"/><circle cx="246.72" cy="43.20" r="3.4" stroke="#0000ff" stroke-width="1.1"/><circle cx="254.61" cy="32.50" r="3.4" stroke="#0000ff" stroke-width="1.1"/><circle cx="262.50" cy="39.60" r="3.4" stroke="#0000ff" stroke-width="1.1"/><circle cx="270.40" cy="49.90" r="3.4" stroke="#0000ff" stroke-width="1.1"/><circle cx="278.29" cy="60.80" r="3.4" stroke="#0000ff" stroke-width="1.1"/><circle cx="286.19" cy="69.40" r="3.4" stroke="#0000ff" stroke-width="1.1"/><circle cx="294.08" cy="78.60" r="3.4" stroke="#0000ff" stroke-width="1.1"/><circle cx="317.49" cy="109.50" r="3.4" stroke="#0000ff" stroke-width="1.1"/><path d="M57.80,106.60 L59.83,105.77 L62.74,104.60 L66.10,103.20 L69.50,101.70 L72.95,100.10 L76.62,98.36 L80.39,96.48 L84.10,94.50 L87.73,92.39 L91.35,90.14 L94.97,87.83 L98.60,85.50 L102.17,83.25 L105.69,81.01 L109.32,78.65 L113.20,76.00 L117.53,72.88 L122.17,69.41 L126.78,65.94 L131.00,62.80 L134.65,60.11 L137.95,57.69 L141.15,55.39 L144.50,53.10 L148.07,50.78 L151.74,48.51 L155.43,46.28 L159.10,44.10 L162.78,41.94 L166.49,39.80 L170.12,37.74 L173.60,35.80 L176.99,33.93 L180.30,32.12 L183.36,30.51 L186.00,29.20 L188.05,28.31 L189.64,27.74 L191.04,27.32 L192.50,26.90 L194.04,26.43 L195.54,26.01 L197.05,25.63 L198.60,25.30 L200.22,25.00 L201.87,24.74 L203.55,24.54 L205.20,24.40 L206.83,24.33 L208.46,24.31 L210.08,24.37 L211.70,24.50 L213.30,24.72 L214.89,25.01 L216.49,25.38 L218.10,25.80 L219.76,26.29 L221.46,26.85 L223.12,27.46 L224.70,28.10 L225.96,28.65 L227.02,29.16 L228.29,29.86 L230.20,31.00 L233.02,32.72 L236.46,34.86 L240.15,37.22 L243.70,39.60 L247.09,42.00 L250.49,44.51 L253.82,47.06 L257.00,49.60 L259.97,52.07 L262.80,54.52 L265.55,57.03 L268.30,59.70 L271.14,62.72 L274.02,66.00 L276.76,69.15 L279.20,71.80 L281.30,73.81 L283.15,75.40 L284.77,76.73 L286.19,77.97 L287.31,79.09 L288.17,80.03 L288.92,80.89 L289.73,81.80 L290.61,82.77 L291.49,83.74 L292.38,84.71 L293.26,85.69 L294.15,86.67 L295.03,87.65 L295.92,88.64 L296.80,89.63 L297.69,90.62 L298.57,91.61 L299.46,92.61 L300.34,93.61 L301.23,94.62 L302.11,95.62 L303.00,96.63 L303.88,97.64 L304.77,98.66 L305.65,99.68 L306.54,100.69 L307.42,101.72 L308.31,102.74 L309.19,103.77 L310.07,104.80 L310.96,105.83 L311.84,106.86 L312.73,107.90 L313.61,108.94 L314.50,109.98 L315.38,111.02 L316.27,112.07 L317.15,113.12 L318.04,114.16 L318.92,115.22 L319.81,116.27 L320.69,117.33 L321.58,118.38 L322.51,119.55 L323.49,120.80 L324.39,121.90 L325.12,122.63 L325.59,122.79 L325.87,122.55 L326.11,122.23 L326.41,122.20 L326.83,122.56 L327.28,123.12 L327.74,123.76 L328.20,124.36 L328.64,124.90 L329.09,125.44 L329.54,125.98 L329.98,126.52" stroke="#ff0000" stroke-width="1" stroke-dasharray="1 2.2"/><path d="M57.80,326.94 L58.11,326.44 L58.43,325.95 L58.74,325.45 L59.06,324.95 L59.37,324.46 L59.69,323.96 L60.00,323.46 L60.32,322.96 L60.63,322.47 L60.95,321.97 L61.26,321.47 L61.58,320.98 L61.89,320.48 L62.21,319.98 L62.52,319.48 L62.84,318.99 L63.15,318.49 L63.47,317.99 L63.78,317.50 L64.10,317.00 L64.41,316.50 L64.73,316.00 L65.04,315.51 L65.36,315.01 L65.67,314.51 L65.99,314.02 L66.30,313.52 L66.62,313.02 L66.93,312.52 L67.25,312.03 L67.56,311.53 L67.88,311.03 L68.19,310.54 L68.51,310.04 L68.82,309.54 L69.14,309.04 L69.45,308.55 L69.77,308.05 L70.08,307.55 L70.40,307.06 L70.71,306.56 L71.03,306.06 L71.34,305.56 L71.66,305.07 L71.97,304.57 L72.28,304.07 L72.60,303.58 L72.91,303.08 L73.23,302.58 L73.54,302.08 L73.86,301.59 L74.17,301.09 L74.49,300.59 L74.80,300.10 L75.12,299.60 L75.43,299.10 L75.75,298.61 L76.06,298.11 L76.38,297.61 L76.69,297.11 L77.01,296.62 L77.32,296.12 L77.64,295.62 L77.95,295.13 L78.27,294.63 L78.58,294.13 L78.90,293.63 L79.21,293.14 L79.53,292.64 L79.84,292.14 L80.16,291.65 L80.47,291.15 L80.79,290.65 L81.10,290.15 L81.42,289.66 L81.73,289.16 L82.05,288.66 L82.36,288.17 L82.68,287.67 L82.99,287.17 L83.31,286.67 L83.62,286.18 L83.94,285.68 L84.25,285.18 L84.57,284.69 L84.88,284.19 L85.20,283.69 L85.51,283.19 L85.83,282.70 L86.14,282.20 L86.45,281.70 L86.77,281.21 L87.08,280.71 L87.40,280.21 L87.71,279.71 L88.03,279.22 L88.34,278.72 L88.66,278.22 L88.97,277.73 L89.29,277.23 L89.60,276.73 L89.92,276.23 L90.23,275.74 L90.55,275.24 L90.86,274.74 L91.18,274.25 L91.49,273.75 L91.81,273.25 L92.12,272.75 L92.44,272.26 L92.75,271.76 L93.07,271.26 L93.38,270.77 L93.70,270.27 L94.01,269.77 L94.33,269.27 L94.64,268.78 L94.96,268.28 L95.27,267.78 L95.59,267.29 L95.90,266.79 L96.22,266.29 L96.53,265.79 L96.85,265.30 L97.16,264.80 L97.48,264.30 L97.79,263.81 L98.11,263.31 L98.42,262.81 L98.74,262.31 L99.05,261.82 L99.37,261.32 L99.68,260.82 L100.00,260.33 L100.31,259.83 L100.63,259.33 L100.94,258.83 L101.25,258.34 L101.57,257.84 L101.88,257.34 L102.20,256.85 L102.51,256.35 L102.83,255.85 L103.14,255.35 L103.46,254.86 L103.77,254.36 L104.09,253.86 L104.40,253.37 L104.72,252.87 L105.03,252.37 L105.35,251.87 L105.66,251.38 L105.98,250.88 L106.29,250.38 L106.61,249.89 L106.92,249.39 L107.24,248.89 L107.55,248.39 L107.87,247.90 L108.18,247.40 L108.50,246.90 L108.81,246.41 L109.13,245.91 L109.44,245.41 L109.76,244.91 L110.07,244.42 L110.39,243.92 L110.70,243.42 L111.02,242.93 L111.33,242.43 L111.65,241.93 L111.96,241.43 L112.28,240.94 L112.59,240.44 L112.91,239.94 L113.22,239.45 L113.54,238.95 L113.85,238.45 L114.17,237.96 L114.48,237.46 L114.80,236.96 L115.11,236.46 L115.42,235.97 L115.74,235.47 L116.05,234.97 L116.37,234.48 L116.68,233.98 L117.00,233.48 L117.31,232.98 L117.63,232.49 L117.94,231.99 L118.26,231.49 L118.57,231.00 L118.89,230.50 L119.20,230.00 L119.52,229.50 L119.83,229.01 L120.15,228.51 L120.46,228.01 L120.78,227.52 L121.09,227.02 L121.41,226.52 L121.72,226.02 L122.04,225.53 L122.35,225.03 L122.67,224.53 L122.98,224.04 L123.30,223.54 L123.61,223.04 L123.93,222.54 L124.24,222.05 L124.56,221.55 L124.87,221.05 L125.19,220.56 L125.50,220.06 L125.82,219.56 L126.13,219.06 L126.45,218.57 L126.76,218.07 L127.08,217.57 L127.39,217.08 L127.71,216.58 L128.02,216.08 L128.34,215.58 L128.65,215.09 L128.97,214.59 L129.28,214.09 L129.59,213.60 L129.91,213.10 L130.22,212.60 L130.54,212.10 L130.85,211.61 L131.17,211.11 L131.48,210.61 L131.80,210.12 L132.11,209.62 L132.43,209.12 L132.74,208.62 L133.06,208.13 L133.37,207.63 L133.69,207.13 L134.00,206.64 L134.32,206.14 L134.63,205.64 L134.95,205.14 L135.26,204.65 L135.58,204.15 L135.89,203.65 L136.21,203.16 L136.52,202.66 L136.84,202.16 L137.15,201.66 L137.47,201.17 L137.78,200.67 L138.10,200.17 L138.41,199.68 L138.73,199.18 L139.04,198.68 L139.36,198.18 L139.67,197.69 L139.99,197.19 L140.30,196.69 L140.62,196.20 L140.93,195.70 L141.25,195.20 L141.56,194.70 L141.88,194.21 L142.19,193.71 L142.51,193.21 L142.82,192.72 L143.14,192.22 L143.45,191.72 L143.76,191.22 L144.08,190.73 L144.39,190.23 L144.71,189.73 L145.02,189.24 L145.34,188.74 L145.65,188.24 L145.97,187.74 L146.28,187.25 L146.60,186.75 L146.91,186.25 L147.23,185.76 L147.54,185.26 L147.86,184.76 L148.17,184.26 L148.49,183.77 L148.80,183.27 L149.12,182.77 L149.43,182.28 L149.75,181.78 L150.06,181.28 L150.38,180.78 L150.69,180.29 L151.01,179.79 L151.32,179.29 L151.64,178.80 L151.95,178.30 L152.27,177.80 L152.58,177.30 L152.90,176.81 L153.21,176.31 L153.53,175.81 L153.84,175.32 L154.16,174.82 L154.47,174.32 L154.79,173.83 L155.10,173.33 L155.42,172.83 L155.73,172.33 L156.05,171.84 L156.36,171.34 L156.68,170.84 L156.99,170.35 L157.31,169.85 L157.62,169.35 L157.93,168.85 L158.25,168.36 L158.56,167.86 L158.88,167.36 L159.19,166.87 L159.51,166.37 L159.82,165.87 L160.14,165.37 L160.45,164.88 L160.77,164.38 L161.08,163.88 L161.40,163.39 L161.71,162.89 L162.03,162.39 L162.34,161.89 L162.66,161.40 L162.97,160.90 L163.29,160.40 L163.60,159.91 L163.92,159.41 L164.23,158.91 L164.55,158.41 L164.86,157.92 L165.18,157.42 L165.49,156.92 L165.81,156.43 L166.12,155.93 L166.44,155.43 L166.75,154.93 L167.07,154.44 L167.38,153.94 L167.70,153.44 L168.01,152.95 L168.33,152.45 L168.64,151.95 L168.96,151.45 L169.27,150.96 L169.59,150.46 L169.90,149.96 L170.22,149.47 L170.53,148.97 L170.85,148.47 L171.16,147.97 L171.48,147.48 L171.79,146.98 L172.11,146.48 L172.42,145.99 L172.73,145.49 L173.05,144.99 L173.36,144.49 L173.68,144.00 L173.99,143.50 L174.31,143.00 L174.62,142.51 L174.94,142.01 L175.25,141.51 L175.57,141.01 L175.88,140.52 L176.20,140.02 L176.51,139.52 L176.83,139.03 L177.14,138.53 L177.46,138.03 L177.77,137.53 L178.09,137.04 L178.40,136.54 L178.72,136.04 L179.03,135.55 L179.35,135.05 L179.66,134.55 L179.98,134.05 L180.29,133.56 L180.61,133.06 L180.92,132.56 L181.24,132.07 L181.55,131.57 L181.87,131.07 L182.18,130.57 L182.50,130.08 L182.81,129.58 L183.13,129.08 L183.44,128.59 L183.76,128.09 L184.07,127.59 L184.39,127.09 L184.70,126.60 L185.02,126.10 L185.33,125.60 L185.65,125.11 L185.96,124.61 L186.28,124.11 L186.59,123.61 L186.90,123.12 L187.22,122.62 L187.53,122.12 L187.85,121.63 L188.16,121.13 L188.48,120.63 L188.79,120.13 L189.11,119.64 L189.42,119.14 L189.74,118.64 L190.05,118.15 L190.37,117.65 L190.68,117.15 L191.00,116.65 L191.31,116.16 L191.63,115.66 L191.94,115.16 L192.26,114.67 L192.57,114.17 L192.89,113.67 L193.20,113.18 L193.52,112.68 L193.83,112.18 L194.15,111.68 L194.46,111.19 L194.78,110.69 L195.09,110.19 L195.41,109.70 L195.72,109.20 L196.04,108.70 L196.35,108.20 L196.67,107.71 L196.98,107.21 L197.30,106.71 L197.61,106.22 L197.93,105.72 L198.24,105.22 L198.56,104.72 L198.87,104.23 L199.19,103.73 L199.50,103.23 L199.82,102.74 L200.13,102.24 L200.45,101.74 L200.76,101.24 L201.07,100.75 L201.39,100.25 L201.70,99.75 L202.02,99.26 L202.33,98.76 L202.65,98.26 L202.96,97.76 L203.28,97.27 L203.59,96.77 L203.91,96.27 L204.22,95.78 L204.54,95.28 L204.85,94.78 L205.17,94.28 L205.48,93.79 L205.80,93.29 L206.11,92.79 L206.43,92.30 L206.74,91.80 L207.06,91.30 L207.37,90.80 L207.69,90.31 L208.00,89.81 L208.32,89.31 L208.63,88.82 L208.95,88.32 L209.26,87.82 L209.58,87.32 L209.89,86.83 L210.21,86.33 L210.52,85.83 L210.84,85.34 L211.15,84.84 L211.47,84.34 L211.78,83.84 L212.10,83.35 L212.41,82.85 L212.73,82.35 L213.04,81.86 L213.36,81.36 L213.67,80.86 L213.99,80.36 L214.30,79.87 L214.62,79.37 L214.93,78.87 L215.24,78.38 L215.56,77.88 L215.87,77.38 L216.19,76.88 L216.50,76.39 L216.82,75.89 L217.13,75.39 L217.45,74.90 L217.76,74.40 L218.08,73.90 L218.39,73.40 L218.71,72.91 L219.02,72.41 L219.34,71.91 L219.65,71.42 L219.97,70.92 L220.28,70.42 L220.60,69.92 L220.91,69.43 L221.23,68.93 L221.54,68.43 L221.86,67.94 L222.17,67.44 L222.49,66.94 L222.80,66.44 L223.12,65.95 L223.43,65.45 L223.75,64.95 L224.06,64.46 L224.38,63.96 L224.69,63.46 L225.01,62.96 L225.32,62.47 L225.64,61.97 L225.95,61.47 L226.27,60.98 L226.58,60.48 L226.90,59.98 L227.21,59.48 L227.53,58.99 L227.84,58.49 L228.16,57.99 L228.47,57.50 L228.79,57.00 L229.10,56.50 L229.42,56.00 L229.73,55.51 L230.04,55.01 L230.36,54.51 L230.67,54.02 L230.99,53.52 L231.30,53.02 L231.62,52.52 L231.93,52.03 L232.25,51.53 L232.56,51.03 L232.88,50.54 L233.19,50.04 L233.51,49.54 L233.82,49.05 L234.14,48.55 L234.45,48.05 L234.77,47.55 L235.08,47.06 L235.40,46.56 L235.71,46.06 L236.03,45.57 L236.34,45.07 L236.66,44.57 L236.97,44.07 L237.29,43.58 L237.60,43.08 L237.92,42.58 L238.23,42.09 L238.55,41.59 L238.86,41.09 L239.18,40.59 L239.49,40.10 L239.81,39.60 L240.12,39.10 L240.44,38.61 L240.75,38.11 L241.07,37.61 L241.38,37.11 L241.70,36.62 L242.01,36.12 L242.33,35.64 L242.64,35.21 L242.96,34.83 L243.27,34.47 L243.59,34.14 L243.90,33.83 L244.21,33.55 L244.53,33.29 L244.84,33.05 L245.16,32.85 L245.47,32.67 L245.79,32.52 L246.10,32.39 L246.42,32.30 L246.73,32.23 L247.05,32.19 L247.36,32.17 L247.68,32.17 L247.99,32.20 L248.31,32.26 L248.62,32.34 L248.94,32.45 L249.25,32.58 L249.57,32.73 L249.88,32.92 L250.20,33.12 L250.51,33.34 L250.83,33.58 L251.14,33.84 L251.46,34.12 L251.77,34.41 L252.09,34.72 L252.40,35.04 L252.72,35.37 L253.03,35.71 L253.35,36.06 L253.66,36.42 L253.98,36.79 L254.29,37.16 L254.61,37.54 L254.92,37.92 L255.24,38.31 L255.55,38.69 L255.87,39.08 L256.18,39.47 L256.50,39.86 L256.81,40.26 L257.13,40.65 L257.44,41.04 L257.76,41.43 L258.07,41.82 L258.38,42.21 L258.70,42.60 L259.01,42.99 L259.33,43.37 L259.64,43.76 L259.96,44.14 L260.27,44.52 L260.59,44.90 L260.90,45.28 L261.22,45.66 L261.53,46.04 L261.85,46.41 L262.16,46.79 L262.48,47.17 L262.79,47.55 L263.11,47.93 L263.42,48.31 L263.74,48.69 L264.05,49.07 L264.37,49.44 L264.68,49.82 L265.00,50.19 L265.31,50.57 L265.63,50.94 L265.94,51.31 L266.26,51.68 L266.57,52.05 L266.89,52.43 L267.20,52.80 L267.52,53.17 L267.83,53.54 L268.15,53.91 L268.46,54.28 L268.78,54.66 L269.09,55.04 L269.41,55.42 L269.72,55.80 L270.04,56.19 L270.35,56.57 L270.67,56.96 L270.98,57.35 L271.30,57.74 L271.61,58.13 L271.93,58.52 L272.24,58.92 L272.55,59.31 L272.87,59.71 L273.18,60.11 L273.50,60.51 L273.81,60.91 L274.13,61.32 L274.44,61.72 L274.76,62.13 L275.07,62.55 L275.39,62.96 L275.70,63.38 L276.02,63.80 L276.33,64.23 L276.65,64.65 L276.96,65.08 L277.28,65.51 L277.59,65.93 L277.91,66.35 L278.22,66.78 L278.54,67.20 L278.85,67.61 L279.17,68.03 L279.48,68.44 L279.80,68.85 L280.11,69.26 L280.43,69.65 L280.74,70.05 L281.06,70.43 L281.37,70.81 L281.69,71.18 L282.00,71.55 L282.32,71.91 L282.63,72.27 L282.95,72.62 L283.26,72.96 L283.58,73.30 L283.89,73.62 L284.21,73.95 L284.52,74.26 L284.84,74.57 L285.15,74.89 L285.47,75.20 L285.78,75.51 L286.10,75.82 L286.41,76.13 L286.72,76.45 L287.04,76.77 L287.35,77.09 L287.67,77.42 L287.98,77.75 L288.30,78.09 L288.61,78.44 L288.93,78.79 L289.24,79.14 L289.56,79.51 L289.87,79.87 L290.19,80.25 L290.50,80.62 L290.82,81.00 L291.13,81.38 L291.45,81.75 L291.76,82.13 L292.08,82.50 L292.39,82.88 L292.71,83.25 L293.02,83.63 L293.34,84.00 L293.65,84.38 L293.97,84.75 L294.28,85.13 L294.60,85.51 L294.91,85.88 L295.23,86.26 L295.54,86.63 L295.86,87.01 L296.17,87.38 L296.49,87.76 L296.80,88.14 L297.12,88.51 L297.43,88.89 L297.75,89.26 L298.06,89.64 L298.38,90.01 L298.69,90.39 L299.01,90.76 L299.32,91.14 L299.64,91.52 L299.95,91.89 L300.27,92.27 L300.58,92.64 L300.90,93.02 L301.21,93.40 L301.52,93.77 L301.84,94.15 L302.15,94.53 L302.47,94.90 L302.78,95.28 L303.10,95.66 L303.41,96.03 L303.73,96.41 L304.04,96.79 L304.36,97.16 L304.67,97.54 L304.99,97.92 L305.30,98.29 L305.62,98.67 L305.93,99.05 L306.25,99.43 L306.56,99.81 L306.88,100.18 L307.19,100.56 L307.51,100.94 L307.82,101.31 L308.14,101.69 L308.45,102.07 L308.77,102.45 L309.08,102.83 L309.40,103.21 L309.71,103.59 L310.03,103.97 L310.34,104.34 L310.66,104.72 L310.97,105.10 L311.29,105.48 L311.60,105.86 L311.92,106.24 L312.23,106.62 L312.55,107.00 L312.86,107.38 L313.18,107.76 L313.49,108.14 L313.81,108.52 L314.12,108.90 L314.44,109.28 L314.75,109.66 L315.07,110.04 L315.38,110.42 L315.69,110.80 L316.01,111.19 L316.32,111.57 L316.64,111.95 L316.95,112.33 L317.27,112.71 L317.58,113.09 L317.90,113.47 L318.21,113.86 L318.53,114.24 L318.84,114.62 L319.16,115.00 L319.47,115.39 L319.79,115.77 L320.10,116.15 L320.42,116.54 L320.73,116.92 L321.05,117.30 L321.36,117.69 L321.68,118.07 L321.99,118.45" stroke="#ff0000" stroke-width="1.05" stroke-dasharray="8 5"/><path d="M93.80,386.20 L96.47,379.33 L99.92,370.37 L104.02,359.73 L108.64,347.79 L113.63,334.95 L118.86,321.61 L124.20,308.16 L129.50,295.00 L135.14,281.25 L141.40,266.17 L148.03,250.32 L154.78,234.30 L161.37,218.68 L167.56,204.03 L173.09,190.95 L177.70,180.00 L181.28,171.50 L184.04,165.02 L186.17,160.05 L187.88,156.09 L189.37,152.61 L190.85,149.11 L192.52,145.08 L194.60,140.00 L197.09,133.81 L199.81,126.98 L202.65,119.77 L205.51,112.46 L208.30,105.32 L210.91,98.61 L213.25,92.62 L215.20,87.60 L216.72,83.67 L217.89,80.62 L218.79,78.24 L219.50,76.31 L220.12,74.64 L220.74,73.00 L221.43,71.19 L222.30,69.00 L223.31,66.47 L224.38,63.81 L225.47,61.09 L226.59,58.35 L227.70,55.66 L228.81,53.06 L229.88,50.62 L230.90,48.40 L231.89,46.36 L232.87,44.43 L233.84,42.61 L234.79,40.92 L235.70,39.35 L236.58,37.90 L237.42,36.59 L238.20,35.40 L238.92,34.37 L239.57,33.49 L240.17,32.75 L240.74,32.14 L241.30,31.62 L241.84,31.19 L242.41,30.82 L243.00,30.50 L243.60,30.23 L244.20,30.02 L244.79,29.88 L245.38,29.82 L245.99,29.85 L246.63,29.97 L247.29,30.18 L248.00,30.50 L248.76,30.94 L249.55,31.50 L250.38,32.17 L251.24,32.92 L252.11,33.74 L252.98,34.60 L253.85,35.50 L254.70,36.40 L255.54,37.34 L256.37,38.35 L257.20,39.41 L258.03,40.50 L258.87,41.61 L259.73,42.73 L260.60,43.83 L261.50,44.90 L262.42,45.94 L263.36,46.96 L264.32,47.97 L265.29,48.98 L266.27,50.00 L267.27,51.04 L268.28,52.10 L269.30,53.20 L270.34,54.34 L271.42,55.51 L272.51,56.70 L273.62,57.91 L274.72,59.14 L275.81,60.36 L276.87,61.59 L277.90,62.80 L278.89,64.01 L279.85,65.23 L280.79,66.45 L281.71,67.67 L282.63,68.89 L283.54,70.10 L284.47,71.31 L285.40,72.50 L286.33,73.65 L287.23,74.75 L288.12,75.83 L289.02,76.91 L289.94,78.02 L290.90,79.19 L291.92,80.44 L293.00,81.80 L294.14,83.27 L295.32,84.82 L296.53,86.44 L297.79,88.12 L299.11,89.85 L300.47,91.64 L301.90,93.45 L303.40,95.30 L305.07,97.29 L306.95,99.49 L308.95,101.80 L310.98,104.12 L312.95,106.35 L314.75,108.39 L316.29,110.15 L317.49,111.52 L318.30,112.46 L318.80,113.04 L319.06,113.34 L319.15,113.46 L319.15,113.46 L319.12,113.44 L319.14,113.47 L319.28,113.64 L319.50,113.90 L319.72,114.17 L319.95,114.43 L320.17,114.70 L320.39,114.97 L320.61,115.23 L320.84,115.50 L321.06,115.77 L321.28,116.03 L321.51,116.30 L321.73,116.57 L321.95,116.83 L322.18,117.10 L322.40,117.37 L322.62,117.64 L322.84,117.90 L323.07,118.17 L323.29,118.44 L323.51,118.71 L323.74,118.97 L323.96,119.24 L324.18,119.51 L324.41,119.78 L324.63,120.05 L324.85,120.32 L325.08,120.58 L325.30,120.85 L325.52,121.12 L325.74,121.39 L325.97,121.66 L326.19,121.93 L326.41,122.20 L326.64,122.47 L326.86,122.74 L327.08,123.01 L327.31,123.28 L327.53,123.55 L327.75,123.82 L327.97,124.09 L328.20,124.36 L328.42,124.63 L328.64,124.90 L328.87,125.17 L329.09,125.44 L329.31,125.71 L329.54,125.98 L329.76,126.25 L329.98,126.52 L330.20,126.80 L330.43,127.07 L330.65,127.34 L330.87,127.61 L331.10,127.88 L331.32,128.15 L331.54,128.43 L331.77,128.70 L331.99,128.97 L332.21,129.24 L332.44,129.51 L332.66,129.79 L332.88,130.06 L333.10,130.33 L333.33,130.61 L333.55,130.88 L333.77,131.15 L334.00,131.42 L334.22,131.70 L334.44,131.97 L334.67,132.24 L334.89,132.52 L335.11,132.79 L335.33,133.06 L335.56,133.34 L335.78,133.61 L336.00,133.89 L336.23,134.16 L336.45,134.43 L336.67,134.71 L336.90,134.98 L337.12,135.26 L337.34,135.53 L337.57,135.81 L337.79,136.08 L338.01,136.36 L338.23,136.63 L338.46,136.91 L338.68,137.18 L338.90,137.46 L339.13,137.73 L339.35,138.01 L339.57,138.28 L339.80,138.56 L340.02,138.83 L340.24,139.11 L340.46,139.39 L340.69,139.66 L340.91,139.94 L341.13,140.21 L341.36,140.49 L341.58,140.77 L341.80,141.04 L342.03,141.32 L342.25,141.60 L342.47,141.87 L342.69,142.15 L342.92,142.43 L343.14,142.70 L343.36,142.98 L343.59,143.26 L343.81,143.53 L344.03,143.81 L344.26,144.09 L344.48,144.37 L344.70,144.64 L344.93,144.92 L345.15,145.20 L345.37,145.48 L345.59,145.75 L345.82,146.03 L346.04,146.31 L346.26,146.59 L346.49,146.87 L346.71,147.14 L346.93,147.42 L347.16,147.70 L347.38,147.98 L347.60,148.26 L347.82,148.54 L348.05,148.82 L348.27,149.09 L348.49,149.37 L348.72,149.65 L348.94,149.93 L349.16,150.21 L349.39,150.49 L349.61,150.77 L349.83,151.05 L350.05,151.33 L350.28,151.61 L350.50,151.89 L350.72,152.17 L350.95,152.45 L351.17,152.73 L351.39,153.01 L351.62,153.29 L351.84,153.57 L352.06,153.85 L352.29,154.13 L352.51,154.41 L352.73,154.69 L352.95,154.97 L353.18,155.25 L353.40,155.53 L353.62,155.81 L353.85,156.09 L354.07,156.37 L354.29,156.65 L354.52,156.93 L354.74,157.21 L354.96,157.49 L355.18,157.77 L355.41,158.06 L355.63,158.34 L355.85,158.62 L356.08,158.90 L356.30,159.18 L356.52,159.46 L356.75,159.74 L356.97,160.03 L357.19,160.31 L357.42,160.59 L357.64,160.87 L357.86,161.15 L358.08,161.43 L358.31,161.72 L358.53,162.00 L358.75,162.28 L358.98,162.56 L359.20,162.84 L359.42,163.13 L359.65,163.41 L359.87,163.69 L360.09,163.97 L360.31,164.26 L360.54,164.54 L360.76,164.82 L360.98,165.10 L361.21,165.39 L361.43,165.67 L361.65,165.95 L361.88,166.24 L362.10,166.52 L362.32,166.80 L362.54,167.08 L362.77,167.37 L362.99,167.65 L363.21,167.93 L363.44,168.22 L363.66,168.50 L363.88,168.78 L364.11,169.07 L364.33,169.35 L364.55,169.64 L364.78,169.92 L365.00,170.20 L365.22,170.49 L365.44,170.77 L365.67,171.05 L365.89,171.34 L366.11,171.62 L366.34,171.91 L366.56,172.19 L366.78,172.47 L367.01,172.76 L367.23,173.04 L367.45,173.33 L367.67,173.61 L367.90,173.89 L368.12,174.18 L368.34,174.46 L368.57,174.75 L368.79,175.03 L369.01,175.32 L369.24,175.60 L369.46,175.89 L369.68,176.17 L369.90,176.46 L370.13,176.74 L370.35,177.03 L370.57,177.31 L370.80,177.60 L371.02,177.88 L371.24,178.17 L371.47,178.45 L371.69,178.74 L371.91,179.02 L372.14,179.31 L372.36,179.59 L372.58,179.88 L372.80,180.16 L373.03,180.45 L373.25,180.73 L373.47,181.02 L373.70,181.30 L373.92,181.59 L374.14,181.87 L374.37,182.16 L374.59,182.44 L374.81,182.73 L375.03,183.02 L375.26,183.30 L375.48,183.59 L375.70,183.87 L375.93,184.16 L376.15,184.45 L376.37,184.73 L376.60,185.02 L376.82,185.30 L377.04,185.59 L377.27,185.87 L377.49,186.16 L377.71,186.45 L377.93,186.73 L378.16,187.02 L378.38,187.31 L378.60,187.59 L378.83,187.88 L379.05,188.16 L379.27,188.45 L379.50,188.74 L379.72,189.02 L379.94,189.31 L380.16,189.60 L380.39,189.88 L380.61,190.17 L380.83,190.45 L381.06,190.74 L381.28,191.03 L381.50,191.31 L381.73,191.60 L381.95,191.89 L382.17,192.17 L382.39,192.46 L382.62,192.75 L382.84,193.03 L383.06,193.32 L383.29,193.61 L383.51,193.89 L383.73,194.18 L383.96,194.47 L384.18,194.75 L384.40,195.04 L384.63,195.33 L384.85,195.61 L385.07,195.90 L385.29,196.19 L385.52,196.48 L385.74,196.76 L385.96,197.05 L386.19,197.34 L386.41,197.62 L386.63,197.91 L386.86,198.20 L387.08,198.48 L387.30,198.77 L387.52,199.06 L387.75,199.35 L387.97,199.63 L388.19,199.92 L388.42,200.21 L388.64,200.49 L388.86,200.78 L389.09,201.07 L389.31,201.36 L389.53,201.64 L389.75,201.93 L389.98,202.22 L390.20,202.50 L390.42,202.79 L390.65,203.08 L390.87,203.37 L391.09,203.65 L391.32,203.94 L391.54,204.23 L391.76,204.51 L391.99,204.80 L392.21,205.09 L392.43,205.38 L392.65,205.66 L392.88,205.95 L393.10,206.24 L393.32,206.52 L393.55,206.81 L393.77,207.10 L393.99,207.39 L394.22,207.67 L394.44,207.96 L394.66,208.25 L394.88,208.53 L395.11,208.82 L395.33,209.11 L395.55,209.40 L395.78,209.68 L396.00,209.97 L396.22,210.26 L396.45,210.54 L396.67,210.83 L396.89,211.12 L397.12,211.41 L397.34,211.69 L397.56,211.98 L397.78,212.27 L398.01,212.55 L398.23,212.84 L398.45,213.13 L398.68,213.42 L398.90,213.70 L399.12,213.99 L399.35,214.28 L399.57,214.56 L399.79,214.85 L400.01,215.14 L400.24,215.43 L400.46,215.71 L400.68,216.00 L400.91,216.29 L401.13,216.57 L401.35,216.86 L401.58,217.15 L401.80,217.43 L402.02,217.72 L402.24,218.01 L402.47,218.29 L402.69,218.58 L402.91,218.87 L403.14,219.15 L403.36,219.44 L403.58,219.73 L403.81,220.01 L404.03,220.30 L404.25,220.59 L404.48,220.87 L404.70,221.16 L404.92,221.45 L405.14,221.73 L405.37,222.02 L405.59,222.31 L405.81,222.59 L406.04,222.88 L406.26,223.17 L406.48,223.45 L406.71,223.74 L406.93,224.02 L407.15,224.31 L407.37,224.60 L407.60,224.88 L407.82,225.17 L408.04,225.46 L408.27,225.74 L408.49,226.03 L408.71,226.31 L408.94,226.60 L409.16,226.89 L409.38,227.17 L409.60,227.46 L409.83,227.74 L410.05,228.03 L410.27,228.31 L410.50,228.60 L410.72,228.89 L410.94,229.17 L411.17,229.46 L411.39,229.74 L411.61,230.03 L411.84,230.31 L412.06,230.60 L412.28,230.88 L412.50,231.17 L412.73,231.45 L412.95,231.74 L413.17,232.02 L413.40,232.31 L413.62,232.59 L413.84,232.88 L414.07,233.16 L414.29,233.45 L414.51,233.73 L414.73,234.02 L414.96,234.30 L415.18,234.59 L415.40,234.87 L415.63,235.16 L415.85,235.44 L416.07,235.72 L416.30,236.01 L416.52,236.29 L416.74,236.58 L416.97,236.86 L417.19,237.14 L417.41,237.43 L417.63,237.71 L417.86,238.00 L418.08,238.28 L418.30,238.56 L418.53,238.85 L418.75,239.13 L418.97,239.41 L419.20,239.70 L419.42,239.98 L419.64,240.26 L419.86,240.55 L420.09,240.83 L420.31,241.11 L420.53,241.40 L420.76,241.68 L420.98,241.96 L421.20,242.24 L421.43,242.53 L421.65,242.81 L421.87,243.09 L422.09,243.37 L422.32,243.66 L422.54,243.94 L422.76,244.22 L422.99,244.50 L423.21,244.78 L423.43,245.07 L423.66,245.35 L423.88,245.63 L424.10,245.91 L424.33,246.19 L424.55,246.47 L424.77,246.75 L424.99,247.04 L425.22,247.32 L425.44,247.60 L425.66,247.88 L425.89,248.16 L426.11,248.44 L426.33,248.72 L426.56,249.00 L426.78,249.28 L427.00,249.56 L427.22,249.84 L427.45,250.12 L427.67,250.40 L427.89,250.68 L428.12,250.96 L428.34,251.24 L428.56,251.52 L428.79,251.80 L429.01,252.08 L429.23,252.36 L429.45,252.64 L429.68,252.92 L429.90,253.19 L430.12,253.47 L430.35,253.75 L430.57,254.03 L430.79,254.31 L431.02,254.59 L431.24,254.86 L431.46,255.14 L431.69,255.42 L431.91,255.70 L432.13,255.98 L432.35,256.25 L432.58,256.53 L432.80,256.81 L433.02,257.08 L433.25,257.36 L433.47,257.64 L433.69,257.91 L433.92,258.19 L434.14,258.47 L434.36,258.74 L434.58,259.02 L434.81,259.30 L435.03,259.57 L435.25,259.85 L435.48,260.12 L435.70,260.40 L435.92,260.67 L436.15,260.95 L436.37,261.22 L436.59,261.50 L436.81,261.77 L437.04,262.05 L437.26,262.32 L437.48,262.60 L437.71,262.87 L437.93,263.14 L438.15,263.42 L438.38,263.69 L438.60,263.96 L438.82,264.24 L439.05,264.51 L439.27,264.78 L439.49,265.06 L439.71,265.33 L439.94,265.60 L440.16,265.87 L440.38,266.14 L440.61,266.42 L440.83,266.69 L441.05,266.96 L441.28,267.23 L441.50,267.50 L441.72,267.77 L441.94,268.04 L442.17,268.31 L442.39,268.59 L442.61,268.86 L442.84,269.13 L443.06,269.40 L443.28,269.66 L443.51,269.93 L443.73,270.20 L443.95,270.47 L444.18,270.74 L444.40,271.01 L444.62,271.28 L444.84,271.55 L445.07,271.82 L445.29,272.08 L445.51,272.35 L445.74,272.62 L445.96,272.89 L446.18,273.15 L446.41,273.42 L446.63,273.69 L446.85,273.95 L447.07,274.22 L447.30,274.49 L447.52,274.75 L447.74,275.02 L447.97,275.28 L448.19,275.55 L448.41,275.81 L448.64,276.08 L448.86,276.34 L449.08,276.61 L449.30,276.87 L449.53,277.13 L449.75,277.40 L449.97,277.66 L450.20,277.92 L450.42,278.19 L450.64,278.45 L450.87,278.71 L451.09,278.97 L451.31,279.24 L451.54,279.50 L451.76,279.76 L451.98,280.02 L452.20,280.28 L452.43,280.54 L452.65,280.80 L452.87,281.06 L453.10,281.32 L453.32,281.58 L453.54,281.84 L453.77,282.10 L453.99,282.36 L454.21,282.62 L454.43,282.88 L454.66,283.13 L454.88,283.39 L455.10,283.65 L455.33,283.91 L455.55,284.16 L455.77,284.42 L456.00,284.68 L456.22,284.93 L456.44,285.19 L456.66,285.45 L456.89,285.70 L457.11,285.96 L457.33,286.21 L457.56,286.47 L457.78,286.72 L458.00,286.97 L458.23,287.23 L458.45,287.48 L458.67,287.73 L458.90,287.99 L459.12,288.24 L459.34,288.49 L459.56,288.74 L459.79,289.00 L460.01,289.25 L460.23,289.50 L460.46,289.75 L460.68,290.00 L460.90,290.25 L461.13,290.50 L461.35,290.75 L461.57,291.00 L461.79,291.25 L462.02,291.49 L462.24,291.74 L462.46,291.99 L462.69,292.24 L462.91,292.48 L463.13,292.73 L463.36,292.98 L463.58,293.22 L463.80,293.47 L464.03,293.72 L464.25,293.96 L464.47,294.21 L464.69,294.45 L464.92,294.69 L465.14,294.94 L465.36,295.18 L465.59,295.42 L465.81,295.67 L466.03,295.91 L466.26,296.15 L466.48,296.39 L466.70,296.63 L466.92,296.87 L467.15,297.12 L467.37,297.36 L467.59,297.60 L467.82,297.83 L468.04,298.07 L468.26,298.31 L468.49,298.55 L468.71,298.79 L468.93,299.03 L469.15,299.26 L469.38,299.50 L469.60,299.74 L469.82,299.97 L470.05,300.21 L470.27,300.44 L470.49,300.68 L470.72,300.91 L470.94,301.15 L471.16,301.38 L471.39,301.61 L471.61,301.85 L471.83,302.08 L472.05,302.31 L472.28,302.54 L472.50,302.77 L472.72,303.00 L472.95,303.23 L473.17,303.46 L473.39,303.69 L473.62,303.92 L473.84,304.15 L474.06,304.38 L474.28,304.61 L474.51,304.84 L474.73,305.06 L474.95,305.29 L475.18,305.51 L475.40,305.74 L475.62,305.97 L475.85,306.19 L476.07,306.41 L476.29,306.64 L476.51,306.86 L476.74,307.09 L476.96,307.31 L477.18,307.53 L477.41,307.75 L477.63,307.97 L477.85,308.19 L478.08,308.41 L478.30,308.63 L478.52,308.85 L478.75,309.07 L478.97,309.29 L479.19,309.51 L479.41,309.73 L479.64,309.94 L479.86,310.16 L480.08,310.37 L480.31,310.59 L480.53,310.81 L480.75,311.02 L480.98,311.23 L481.20,311.45 L481.42,311.66 L481.64,311.87 L481.87,312.08 L482.09,312.30 L482.31,312.51 L482.54,312.72 L482.76,312.93 L482.98,313.14 L483.21,313.35 L483.43,313.56 L483.65,313.76 L483.88,313.97 L484.10,314.18 L484.32,314.38 L484.54,314.59 L484.77,314.80 L484.99,315.00 L485.21,315.20 L485.44,315.41 L485.66,315.61 L485.88,315.81 L486.11,316.02 L486.33,316.22 L486.55,316.42 L486.77,316.62 L487.00,316.82 L487.22,317.02 L487.44,317.22 L487.67,317.42 L487.89,317.62 L488.11,317.81 L488.34,318.01 L488.56,318.21 L488.78,318.40 L489.00,318.60 L489.23,318.79 L489.45,318.98 L489.67,319.18 L489.90,319.37 L490.12,319.56 L490.34,319.76 L490.57,319.95 L490.79,320.14 L491.01,320.33 L491.24,320.52 L491.46,320.70 L491.68,320.89 L491.90,321.08 L492.13,321.27 L492.35,321.45 L492.57,321.64 L492.80,321.83 L493.02,322.01 L493.24,322.19 L493.47,322.38 L493.69,322.56 L493.91,322.74 L494.13,322.92 L494.36,323.11 L494.58,323.29 L494.80,323.47 L495.03,323.65 L495.25,323.82 L495.47,324.00 L495.70,324.18 L495.92,324.36 L496.14,324.53 L496.36,324.71 L496.59,324.88 L496.81,325.06 L497.03,325.23 L497.26,325.40 L497.48,325.58 L497.70,325.75 L497.93,325.92 L498.15,326.09 L498.37,326.26 L498.60,326.43 L498.82,326.60 L499.04,326.77 L499.26,326.93 L499.49,327.10 L499.71,327.27 L499.93,327.43 L500.16,327.60 L500.38,327.76 L500.60,327.92 L500.83,328.09 L501.05,328.25 L501.27,328.41 L501.49,328.57 L501.72,328.73 L501.94,328.89 L502.16,329.05 L502.39,329.21 L502.61,329.36 L502.83,329.52 L503.06,329.68 L503.28,329.83 L503.50,329.99 L503.73,330.14 L503.95,330.30 L504.17,330.45 L504.39,330.60 L504.62,330.75 L504.84,330.90 L505.06,331.05 L505.29,331.20 L505.51,331.35 L505.73,331.50 L505.96,331.65 L506.18,331.79 L506.40,331.94 L506.62,332.09 L506.85,332.23 L507.07,332.37 L507.29,332.52 L507.52,332.66 L507.74,332.80 L507.96,332.94 L508.19,333.08 L508.41,333.22 L508.63,333.36 L508.85,333.50 L509.08,333.64 L509.30,333.78 L509.52,333.91 L509.75,334.05 L509.97,334.18 L510.19,334.32 L510.42,334.45 L510.64,334.59 L510.86,334.72 L511.09,334.85 L511.31,334.98 L511.53,335.11 L511.75,335.24 L511.98,335.37 L512.20,335.50 L512.42,335.62 L512.65,335.75 L512.87,335.88 L513.09,336.00 L513.32,336.13 L513.54,336.25 L513.76,336.37 L513.98,336.49 L514.21,336.62 L514.43,336.74 L514.65,336.86 L514.88,336.98 L515.10,337.10 L515.32,337.21 L515.55,337.33 L515.77,337.45 L515.99,337.56 L516.21,337.68 L516.44,337.79 L516.66,337.91 L516.88,338.02 L517.11,338.13 L517.33,338.25 L517.55,338.36 L517.78,338.47 L518.00,338.58 L518.22,338.68 L518.45,338.79 L518.67,338.90 L518.89,339.01 L519.11,339.11 L519.34,339.22 L519.56,339.32 L519.78,339.43 L520.01,339.53 L520.23,339.63 L520.45,339.73 L520.68,339.84 L520.90,339.94 L521.12,340.04 L521.34,340.13 L521.57,340.23 L521.79,340.33 L522.01,340.43 L522.24,340.52 L522.46,340.62 L522.68,340.71 L522.91,340.81 L523.13,340.90 L523.35,340.99 L523.58,341.08 L523.80,341.18 L524.02,341.27 L524.24,341.36 L524.47,341.44 L524.69,341.53 L524.91,341.62 L525.14,341.71 L525.36,341.79 L525.58,341.88 L525.81,341.96 L526.03,342.05 L526.25,342.13 L526.47,342.21 L526.70,342.30 L526.92,342.38 L527.14,342.46 L527.37,342.54 L527.59,342.62 L527.81,342.70 L528.04,342.77 L528.27,342.85 L528.52,342.94 L528.78,343.03 L529.04,343.11 L529.28,343.19 L529.50,343.27 L529.68,343.33 L529.82,343.37" stroke="#ff0000" stroke-width="1"/><circle cx="215.14" cy="87.60" r="3.4" stroke="#ff0000" stroke-width="1.1"/><circle cx="223.03" cy="69.00" r="3.4" stroke="#ff0000" stroke-width="1.1"/><circle cx="230.93" cy="48.40" r="3.4" stroke="#ff0000" stroke-width="1.1"/><circle cx="238.82" cy="34.40" r="3.4" stroke="#ff0000" stroke-width="1.1"/><circle cx="246.72" cy="29.50" r="3.4" stroke="#ff0000" stroke-width="1.1"/><circle cx="254.61" cy="36.40" r="3.4" stroke="#ff0000" stroke-width="1.1"/><circle cx="262.50" cy="44.90" r="3.4" stroke="#ff0000" stroke-width="1.1"/><circle cx="270.40" cy="52.80" r="3.4" stroke="#ff0000" stroke-width="1.1"/><circle cx="278.29" cy="62.50" r="3.4" stroke="#ff0000" stroke-width="1.1"/><circle cx="286.19" cy="72.30" r="3.4" stroke="#ff0000" stroke-width="1.1"/><circle cx="294.08" cy="81.50" r="3.4" stroke="#ff0000" stroke-width="1.1"/><circle cx="317.49" cy="109.50" r="3.4" stroke="#ff0000" stroke-width="1.1"/><circle cx="341.07" cy="138.30" r="3.4" stroke="#0000ff" stroke-width="0.9"/><circle cx="341.17" cy="138.80" r="3.4" stroke="#ff0000" stroke-width="1.1"/><circle cx="364.76" cy="168.50" r="3.4" stroke="#0000ff" stroke-width="0.9"/><circle cx="364.86" cy="169.00" r="3.4" stroke="#ff0000" stroke-width="1.1"/><circle cx="388.44" cy="199.50" r="3.4" stroke="#0000ff" stroke-width="0.9"/><circle cx="388.54" cy="200.00" r="3.4" stroke="#ff0000" stroke-width="1.1"/><circle cx="412.12" cy="234.20" r="3.4" stroke="#000" stroke-width="0.8"/><circle cx="412.22" cy="233.80" r="3.4" stroke="#ff0000" stroke-width="1.1"/><circle cx="435.80" cy="266.50" r="3.4" stroke="#000" stroke-width="0.8"/><circle cx="435.90" cy="266.10" r="3.4" stroke="#ff0000" stroke-width="1.1"/><circle cx="459.48" cy="296.40" r="3.4" stroke="#000" stroke-width="0.8"/><circle cx="459.58" cy="296.00" r="3.4" stroke="#ff0000" stroke-width="1.1"/><circle cx="483.17" cy="323.00" r="3.4" stroke="#000" stroke-width="0.8"/><circle cx="483.27" cy="322.60" r="3.4" stroke="#ff0000" stroke-width="1.1"/><circle cx="506.85" cy="344.30" r="3.4" stroke="#000" stroke-width="0.8"/><circle cx="506.95" cy="343.90" r="3.4" stroke="#ff0000" stroke-width="1.1"/><path d="M317.49,111.52 L319.28,113.64 L321.06,115.77 L322.84,117.90 L324.63,120.05 L326.41,122.20 L328.20,124.36 L329.98,126.52 L331.77,128.70 L333.55,130.88 L335.33,133.06 L337.12,135.26 L338.90,137.46 L340.69,139.66 L342.47,141.87 L344.26,144.09 L346.04,146.31 L347.82,148.54 L349.61,150.77 L351.39,153.01 L353.18,155.25 L354.96,157.49 L356.75,159.74 L358.53,162.00 L360.31,164.26 L362.10,166.52 L363.88,168.78 L365.67,171.05 L367.45,173.33 L369.24,175.60 L371.02,177.88 L372.80,180.16 L374.59,182.44 L376.37,184.73 L378.16,187.02 L379.94,189.31 L381.73,191.60 L383.51,193.89 L385.29,196.19 L387.08,198.48 L388.86,200.78 L390.65,203.08 L392.43,205.38 L394.22,207.67 L396.00,209.97 L397.78,212.27 L399.57,214.56 L401.35,216.86" stroke="#ff0000" stroke-width="1.15"/><path d="M401.35,216.86 L403.14,219.15 L404.92,221.45 L406.71,223.74 L408.49,226.03 L410.27,228.31 L412.06,230.60 L413.84,232.88 L415.63,235.16 L417.41,237.43 L419.20,239.70 L420.98,241.96 L422.76,244.22 L424.55,246.47 L426.33,248.72 L428.12,250.96 L429.90,253.19 L431.69,255.42 L433.47,257.64 L435.25,259.85 L437.04,262.05 L438.82,264.24 L440.61,266.42 L442.39,268.59 L444.18,270.74 L445.96,272.89 L447.74,275.02 L449.53,277.13 L451.31,279.24 L453.10,281.32 L454.88,283.39 L456.66,285.45 L458.45,287.48" stroke="#ff0000" stroke-width="1.2"/><path d="M458.45,287.48 L460.23,289.50 L462.02,291.49 L463.80,293.47 L465.59,295.42 L467.37,297.36 L469.15,299.26 L470.94,301.15 L472.72,303.00 L474.51,304.84 L476.29,306.64 L478.08,308.41 L479.86,310.16 L481.64,311.87 L483.43,313.56 L485.21,315.20 L487.00,316.82 L488.78,318.40 L490.57,319.95 L492.35,321.45 L494.13,322.92 L495.92,324.36 L497.70,325.75 L499.49,327.10 L501.27,328.41 L503.06,329.68 L504.84,330.90 L506.62,332.09 L508.41,333.22 L510.19,334.32 L511.98,335.37 L513.76,336.37 L515.55,337.33 L517.33,338.25 L519.11,339.11 L520.90,339.94 L522.68,340.71 L524.47,341.44 L526.25,342.13 L528.04,342.77 L529.82,343.37" stroke="#ff0000" stroke-width="1.1"/></g><g stroke="#6e6e6e" stroke-width="1.3" fill="none"><path d="M57.7,13.6 L57.7,386.15 L529.8,386.15"/><path d="M57.80,386.2 L57.80,381"/><path d="M81.48,386.2 L81.48,383.5" stroke-width="1"/><path d="M95.34,386.2 L95.34,383.5" stroke-width="1"/><path d="M105.16,386.2 L105.16,383.5" stroke-width="1"/><path d="M112.79,386.2 L112.79,383.5" stroke-width="1"/><path d="M119.02,386.2 L119.02,383.5" stroke-width="1"/><path d="M124.28,386.2 L124.28,383.5" stroke-width="1"/><path d="M128.85,386.2 L128.85,383.5" stroke-width="1"/><path d="M132.87,386.2 L132.87,383.5" stroke-width="1"/><path d="M136.47,386.2 L136.47,381"/><path d="M160.15,386.2 L160.15,383.5" stroke-width="1"/><path d="M174.01,386.2 L174.01,383.5" stroke-width="1"/><path d="M183.83,386.2 L183.83,383.5" stroke-width="1"/><path d="M191.46,386.2 L191.46,383.5" stroke-width="1"/><path d="M197.69,386.2 L197.69,383.5" stroke-width="1"/><path d="M202.95,386.2 L202.95,383.5" stroke-width="1"/><path d="M207.52,386.2 L207.52,383.5" stroke-width="1"/><path d="M211.54,386.2 L211.54,383.5" stroke-width="1"/><path d="M215.14,386.2 L215.14,381"/><path d="M238.82,386.2 L238.82,383.5" stroke-width="1"/><path d="M252.68,386.2 L252.68,383.5" stroke-width="1"/><path d="M262.50,386.2 L262.50,383.5" stroke-width="1"/><path d="M270.13,386.2 L270.13,383.5" stroke-width="1"/><path d="M276.36,386.2 L276.36,383.5" stroke-width="1"/><path d="M281.62,386.2 L281.62,383.5" stroke-width="1"/><path d="M286.19,386.2 L286.19,383.5" stroke-width="1"/><path d="M290.21,386.2 L290.21,383.5" stroke-width="1"/><path d="M293.81,386.2 L293.81,381"/><path d="M317.49,386.2 L317.49,383.5" stroke-width="1"/><path d="M331.35,386.2 L331.35,383.5" stroke-width="1"/><path d="M341.17,386.2 L341.17,383.5" stroke-width="1"/><path d="M348.80,386.2 L348.80,383.5" stroke-width="1"/><path d="M355.03,386.2 L355.03,383.5" stroke-width="1"/><path d="M360.29,386.2 L360.29,383.5" stroke-width="1"/><path d="M364.86,386.2 L364.86,383.5" stroke-width="1"/><path d="M368.88,386.2 L368.88,383.5" stroke-width="1"/><path d="M372.48,386.2 L372.48,381"/><path d="M396.16,386.2 L396.16,383.5" stroke-width="1"/><path d="M410.02,386.2 L410.02,383.5" stroke-width="1"/><path d="M419.84,386.2 L419.84,383.5" stroke-width="1"/><path d="M427.47,386.2 L427.47,383.5" stroke-width="1"/><path d="M433.70,386.2 L433.70,383.5" stroke-width="1"/><path d="M438.96,386.2 L438.96,383.5" stroke-width="1"/><path d="M443.53,386.2 L443.53,383.5" stroke-width="1"/><path d="M447.55,386.2 L447.55,383.5" stroke-width="1"/><path d="M451.15,386.2 L451.15,381"/><path d="M474.83,386.2 L474.83,383.5" stroke-width="1"/><path d="M488.69,386.2 L488.69,383.5" stroke-width="1"/><path d="M498.51,386.2 L498.51,383.5" stroke-width="1"/><path d="M506.14,386.2 L506.14,383.5" stroke-width="1"/><path d="M512.37,386.2 L512.37,383.5" stroke-width="1"/><path d="M517.63,386.2 L517.63,383.5" stroke-width="1"/><path d="M522.20,386.2 L522.20,383.5" stroke-width="1"/><path d="M526.22,386.2 L526.22,383.5" stroke-width="1"/><path d="M529.82,386.2 L529.82,381"/><path d="M57.7,386.20 L62.8,386.20"/><path d="M57.7,348.81 L60.5,348.81" stroke-width="1"/><path d="M57.7,326.94 L60.5,326.94" stroke-width="1"/><path d="M57.7,311.42 L60.5,311.42" stroke-width="1"/><path d="M57.7,299.39 L60.5,299.39" stroke-width="1"/><path d="M57.7,289.55 L60.5,289.55" stroke-width="1"/><path d="M57.7,281.24 L60.5,281.24" stroke-width="1"/><path d="M57.7,274.04 L60.5,274.04" stroke-width="1"/><path d="M57.7,267.68 L60.5,267.68" stroke-width="1"/><path d="M57.7,262.00 L62.8,262.00"/><path d="M57.7,224.61 L60.5,224.61" stroke-width="1"/><path d="M57.7,202.74 L60.5,202.74" stroke-width="1"/><path d="M57.7,187.22 L60.5,187.22" stroke-width="1"/><path d="M57.7,175.19 L60.5,175.19" stroke-width="1"/><path d="M57.7,165.35 L60.5,165.35" stroke-width="1"/><path d="M57.7,157.04 L60.5,157.04" stroke-width="1"/><path d="M57.7,149.84 L60.5,149.84" stroke-width="1"/><path d="M57.7,143.48 L60.5,143.48" stroke-width="1"/><path d="M57.7,137.80 L62.8,137.80"/><path d="M57.7,100.41 L60.5,100.41" stroke-width="1"/><path d="M57.7,78.54 L60.5,78.54" stroke-width="1"/><path d="M57.7,63.02 L60.5,63.02" stroke-width="1"/><path d="M57.7,50.99 L60.5,50.99" stroke-width="1"/><path d="M57.7,41.15 L60.5,41.15" stroke-width="1"/><path d="M57.7,32.84 L60.5,32.84" stroke-width="1"/><path d="M57.7,25.64 L60.5,25.64" stroke-width="1"/><path d="M57.7,19.28 L60.5,19.28" stroke-width="1"/><path d="M57.7,13.60 L62.8,13.60"/></g></svg>
<div class="xt" style="left:27.8px;top:396.6px"><span>10</span><sup>-3</sup></div><div class="xt" style="left:106.5px;top:396.6px"><span>10</span><sup>-2</sup></div><div class="xt" style="left:185.1px;top:396.6px"><span>10</span><sup>-1</sup></div><div class="xt" style="left:263.8px;top:396.6px"><span>10</span><sup>0</sup></div><div class="xt" style="left:342.5px;top:396.6px"><span>10</span><sup>1</sup></div><div class="xt" style="left:421.2px;top:396.6px"><span>10</span><sup>2</sup></div><div class="xt" style="left:499.8px;top:396.6px"><span>10</span><sup>3</sup></div>
<div class="yt" style="top:381.9px"><span>10</span><sup>-1</sup></div><div class="yt" style="top:257.7px"><span>10</span><sup>0</sup></div><div class="yt" style="top:133.5px"><span>10</span><sup>1</sup></div><div class="yt" style="top:9.3px"><span>10</span><sup>2</sup></div>
<div class="xl">Energy (MeV/u)</div>
<div class="yl" style="left:17px">LET (keV/µm)</div>

<div class="leg">
 <svg width="177" height="67" style="position:absolute;left:0;top:0;overflow:visible">
  <rect x="-0.05" y="-0.1" width="176.45" height="66.5" fill="#fff" stroke="#6e6e6e" stroke-width="1.25"/>
  <path d="M3,9.4 L34,9.4" stroke="#000" stroke-width="1" stroke-dasharray="1 2.8"/>
  <path d="M3,25.2 L36,25.2" stroke="#000" stroke-width="1" stroke-dasharray="7.7 5.3"/>
  <path d="M3,41.2 L35.5,41.2" stroke="#000" stroke-width="1"/>
  <circle cx="19.3" cy="57.1" r="3.1" fill="none" stroke="#000" stroke-width="1"/>
 </svg>
 <div class="lt" style="top:2.75px">ICRU stopping power</div>
 <div class="lt" style="top:18.6px">ICRU, 10 µm segment</div>
 <div class="lt" style="top:34.4px">ICRU, 10 µm sphere</div>
 <div class="lt" style="top:50.2px">PARTRAC, 10 µm sphere</div>
</div>

<div class="isoH" style="left:236.2px;top:10.2px;color:#ff0000">H</div>
<div class="isoS" style="left:228.9px;top:5.0px;color:#ff0000">3</div>
<div class="isoH" style="left:259.0px;top:22.0px;color:#0000ff">H</div>
<div class="isoS" style="left:252.9px;top:18.0px;color:#0000ff">2</div>
<div class="isoH" style="left:283.4px;top:33.8px;color:#262626">H</div>
<div class="isoS" style="left:277.2px;top:29.2px;color:#262626">1</div>


<script>
(function(){
  var U=2048, els=document.querySelectorAll('.xt,.yt,.lt,.isoS'), out='';
  for(var i=0;i<els.length;i++){
    var w=document.createTreeWalker(els[i],NodeFilter.SHOW_TEXT,null,false),n;
    while((n=w.nextNode())){
      var t=n.nodeValue;
      for(var k=0;k<t.length;k++){
        if(t.charAt(k)!=='1')continue;
        var r=document.createRange();r.setStart(n,k);r.setEnd(n,k+1);
        var b=r.getBoundingClientRect();
        var fs=parseFloat(getComputedStyle(n.parentNode).fontSize);
        var s=fs/U, base=b.top+Math.round(1854*s), x0=b.left;
        var parts=[[x0+140*s-0.3, x0+515*s-0.55],[x0+696*s+0.55, x0+1070*s+0.3]];
        for(var p=0;p<2;p++){
          var wd=parts[p][1]-parts[p][0];
          if(wd<=0)continue;
          out+='<rect x="'+parts[p][0].toFixed(3)+'" y="'+(base-1.7).toFixed(3)+'" width="'+wd.toFixed(3)+'" height="2.6" fill="#fff"/>';
        }
      }
    }
  }
  var d=document.createElement('div');
  d.style.cssText='position:absolute;left:0;top:0;width:550px;height:436px;pointer-events:none';
  d.innerHTML='<svg width="550" height="436" style="position:absolute;left:0;top:0">'+out+'</svg>';
  document.body.appendChild(d);
})();
</script>
</body></html>
